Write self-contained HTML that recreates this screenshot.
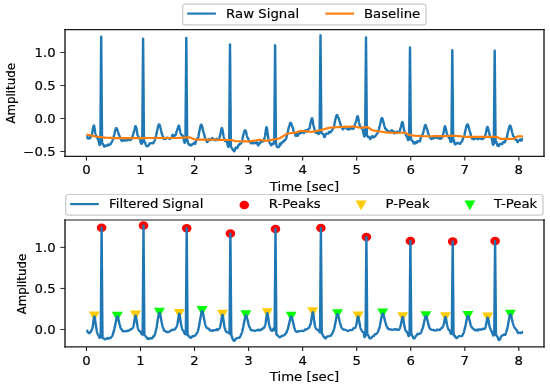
<!DOCTYPE html>
<html lang="en"><head><meta charset="utf-8"><title>ECG signal peaks</title>
<style>html,body{margin:0;padding:0;background:#fff;overflow:hidden}text{stroke:#000;stroke-width:0.16px;stroke-linejoin:round}</style></head>
<body>
<svg width="550" height="388" viewBox="0 0 488.455 388" preserveAspectRatio="none" style="display:block;font-family:'DejaVu Sans','Liberation Sans',sans-serif;font-size:11.6px;fill:#000">
<rect x="0" y="0" width="488.45" height="388" fill="#ffffff"/>
<polyline points="76.78,136.25 76.91,136.19 77.04,136.13 77.18,136.17 77.31,136.40 77.44,136.83 77.58,137.33 77.71,137.78 77.84,138.10 77.98,138.31 78.11,138.48 78.24,138.59 78.37,138.63 78.51,138.61 78.64,138.54 78.77,138.37 78.91,138.07 79.04,137.73 79.17,137.47 79.31,137.40 79.44,137.57 79.57,137.89 79.71,138.22 79.84,138.38 79.97,138.29 80.11,138.01 80.24,137.69 80.37,137.45 80.51,137.24 80.64,136.96 80.77,136.59 80.91,136.22 81.04,135.92 81.17,135.68 81.31,135.42 81.44,135.05 81.57,134.56 81.71,133.94 81.84,133.22 81.97,132.44 82.10,131.63 82.24,130.81 82.37,130.01 82.50,129.23 82.64,128.44 82.77,127.68 82.90,126.96 83.04,126.32 83.17,125.81 83.30,125.47 83.44,125.43 83.57,125.79 83.70,126.39 83.84,127.18 83.97,128.12 84.10,129.15 84.24,130.21 84.37,131.23 84.50,132.14 84.64,132.90 84.77,133.52 84.90,134.05 85.04,134.53 85.17,135.04 85.30,135.62 85.44,136.21 85.57,136.68 85.70,136.91 85.83,136.93 85.97,136.88 86.10,136.91 86.23,137.12 86.37,137.55 86.50,138.09 86.63,138.57 86.77,138.87 86.90,139.04 87.03,139.24 87.17,139.56 87.30,139.98 87.43,140.46 87.57,140.99 87.70,141.59 87.83,142.23 87.97,142.89 88.10,143.57 88.23,144.24 88.37,144.78 88.50,145.06 88.63,145.00 88.77,144.65 88.90,144.17 89.03,143.67 89.17,137.04 89.30,118.12 89.43,99.16 89.56,80.20 89.70,61.31 89.83,42.62 89.88,36.50 89.96,48.82 90.10,67.65 90.23,86.70 90.36,105.73 90.50,124.55 90.63,143.14 90.76,143.22 90.90,143.35 91.03,143.58 91.16,143.85 91.30,144.12 91.43,144.35 91.56,144.52 91.70,144.65 91.83,144.82 91.96,145.07 92.10,145.41 92.23,145.84 92.36,146.28 92.50,146.63 92.63,146.77 92.76,146.64 92.90,146.32 93.03,145.95 93.16,145.67 93.29,145.53 93.43,145.53 93.56,145.59 93.69,145.67 93.83,145.75 93.96,145.82 94.09,145.86 94.23,145.87 94.36,145.87 94.49,145.92 94.63,145.98 94.76,145.93 94.89,145.70 95.03,145.39 95.16,145.12 95.29,144.97 95.43,144.87 95.56,144.73 95.69,144.56 95.83,144.45 95.96,144.51 96.09,144.76 96.23,145.10 96.36,145.35 96.49,145.40 96.63,145.26 96.76,145.03 96.89,144.85 97.02,144.74 97.16,144.64 97.29,144.54 97.42,144.44 97.56,144.41 97.69,144.46 97.82,144.49 97.96,144.46 98.09,144.34 98.22,144.15 98.36,143.84 98.49,143.42 98.62,142.98 98.76,142.66 98.89,142.51 99.02,142.46 99.16,142.39 99.29,142.21 99.42,141.91 99.56,141.52 99.69,141.08 99.82,140.63 99.96,140.24 100.09,139.93 100.22,139.64 100.36,139.26 100.49,138.75 100.62,138.16 100.75,137.55 100.89,136.96 101.02,136.40 101.15,135.86 101.29,135.33 101.42,134.80 101.55,134.21 101.69,133.53 101.82,132.80 101.95,132.11 102.09,131.51 102.22,130.99 102.35,130.51 102.49,130.04 102.62,129.57 102.75,129.13 102.89,128.72 103.02,128.36 103.15,128.07 103.29,127.90 103.42,127.95 103.55,128.16 103.69,128.48 103.82,128.86 103.95,129.23 104.09,129.54 104.22,129.83 104.35,130.16 104.48,130.58 104.62,131.07 104.75,131.55 104.88,131.99 105.02,132.42 105.15,132.92 105.28,133.51 105.42,134.12 105.55,134.65 105.68,135.04 105.82,135.33 105.95,135.61 106.08,135.95 106.22,136.39 106.35,136.91 106.48,137.44 106.62,137.87 106.75,138.12 106.88,138.22 107.02,138.29 107.15,138.45 107.28,138.77 107.42,139.21 107.55,139.73 107.68,140.23 107.82,140.62 107.95,140.81 108.08,140.79 108.21,140.64 108.35,140.44 108.48,140.27 108.61,140.24 108.75,140.36 108.88,140.59 109.01,140.80 109.15,140.90 109.28,140.83 109.41,140.52 109.55,139.96 109.68,139.29 109.81,138.73 109.95,138.50 110.08,138.71 110.21,139.22 110.35,139.74 110.48,140.07 110.61,140.21 110.75,140.31 110.88,140.45 111.01,140.55 111.15,140.60 111.28,140.62 111.41,140.63 111.55,140.59 111.68,140.45 111.81,140.22 111.94,140.00 112.08,139.85 112.21,139.75 112.34,139.65 112.48,139.57 112.61,139.58 112.74,139.76 112.88,140.09 113.01,140.41 113.14,140.54 113.28,140.37 113.41,139.97 113.54,139.51 113.68,139.17 113.81,139.03 113.94,139.03 114.08,139.07 114.21,139.16 114.34,139.35 114.48,139.61 114.61,139.87 114.74,140.00 114.88,139.94 115.01,139.70 115.14,139.42 115.28,139.29 115.41,139.43 115.54,139.78 115.67,140.12 115.81,140.23 115.94,140.08 116.07,139.78 116.21,139.48 116.34,139.29 116.47,139.25 116.61,139.25 116.74,139.17 116.87,138.90 117.01,138.51 117.14,138.15 117.27,137.88 117.41,137.61 117.54,137.20 117.67,136.61 117.81,135.97 117.94,135.43 118.07,135.01 118.21,134.61 118.34,134.14 118.47,133.57 118.61,132.93 118.74,132.29 118.87,131.70 119.01,131.20 119.14,130.76 119.27,130.33 119.40,129.84 119.54,129.25 119.67,128.58 119.80,127.87 119.94,127.20 120.07,126.66 120.20,126.26 120.34,126.04 120.47,126.06 120.60,126.35 120.74,126.76 120.87,127.23 121.00,127.76 121.14,128.38 121.27,129.11 121.40,129.98 121.54,130.97 121.67,132.02 121.80,133.07 121.94,134.01 122.07,134.79 122.20,135.34 122.34,135.65 122.47,135.78 122.60,135.90 122.74,136.18 122.87,136.61 123.00,137.00 123.13,137.18 123.27,137.16 123.40,137.14 123.53,137.28 123.67,137.56 123.80,137.88 123.93,138.18 124.07,138.43 124.20,138.71 124.33,139.11 124.47,139.72 124.60,140.52 124.73,141.43 124.87,142.24 125.00,142.83 125.13,143.18 125.27,143.39 125.40,143.58 125.53,143.76 125.67,143.88 125.80,143.78 125.93,143.32 126.07,142.57 126.20,141.82 126.33,141.36 126.47,123.32 126.60,105.46 126.73,87.47 126.87,69.24 127.00,50.88 127.09,38.70 127.13,44.57 127.26,62.38 127.40,80.38 127.53,98.54 127.66,116.87 127.80,135.34 127.93,141.88 128.06,142.31 128.20,142.50 128.33,142.50 128.46,142.39 128.60,142.28 128.73,142.23 128.86,142.29 129.00,142.58 129.13,143.11 129.26,143.80 129.40,144.45 129.53,144.90 129.66,145.14 129.80,145.30 129.93,145.54 130.06,145.89 130.20,146.26 130.33,146.50 130.46,146.52 130.60,146.37 130.73,146.16 130.86,146.03 130.99,145.98 131.13,145.99 131.26,146.03 131.39,146.07 131.53,146.00 131.66,145.76 131.79,145.42 131.93,145.16 132.06,145.08 132.19,145.08 132.33,144.97 132.46,144.62 132.59,144.11 132.73,143.63 132.86,143.36 132.99,143.34 133.13,143.49 133.26,143.65 133.39,143.71 133.53,143.62 133.66,143.46 133.79,143.33 133.93,143.26 134.06,143.21 134.19,143.14 134.33,143.03 134.46,142.95 134.59,142.94 134.72,143.04 134.86,143.16 134.99,143.22 135.12,143.18 135.26,143.11 135.39,143.11 135.52,143.22 135.66,143.38 135.79,143.47 135.92,143.42 136.06,143.21 136.19,142.92 136.32,142.66 136.46,142.45 136.59,142.29 136.72,142.08 136.86,141.78 136.99,141.40 137.12,141.04 137.26,140.74 137.39,140.42 137.52,140.00 137.66,139.45 137.79,138.83 137.92,138.21 138.06,137.63 138.19,137.10 138.32,136.61 138.45,136.12 138.59,135.53 138.72,134.84 138.85,134.13 138.99,133.46 139.12,132.86 139.25,132.27 139.39,131.66 139.52,131.02 139.65,130.32 139.79,129.58 139.92,128.81 140.05,128.07 140.19,127.41 140.32,126.85 140.45,126.36 140.59,125.88 140.72,125.43 140.85,125.01 140.99,124.66 141.12,124.38 141.25,124.22 141.39,124.21 141.52,124.32 141.65,124.58 141.79,124.97 141.92,125.45 142.05,125.97 142.18,126.48 142.32,127.01 142.45,127.58 142.58,128.19 142.72,128.83 142.85,129.50 142.98,130.19 143.12,130.85 143.25,131.44 143.38,132.02 143.52,132.68 143.65,133.41 143.78,134.11 143.92,134.61 144.05,134.86 144.18,135.00 144.32,135.21 144.45,135.58 144.58,136.04 144.72,136.46 144.85,136.84 144.98,137.25 145.12,137.77 145.25,138.35 145.38,138.82 145.52,138.99 145.65,138.86 145.78,138.59 145.91,138.35 146.05,138.25 146.18,138.30 146.31,138.47 146.45,138.71 146.58,138.94 146.71,139.07 146.85,139.03 146.98,138.87 147.11,138.68 147.25,138.57 147.38,138.57 147.51,138.60 147.65,138.56 147.78,138.40 147.91,138.15 148.05,137.89 148.18,137.67 148.31,137.52 148.45,137.48 148.58,137.57 148.71,137.76 148.85,137.93 148.98,138.00 149.11,137.96 149.25,137.88 149.38,137.86 149.51,137.91 149.64,138.04 149.78,138.22 149.91,138.42 150.04,138.63 150.18,138.78 150.31,138.85 150.44,138.84 150.58,138.82 150.71,138.84 150.84,138.92 150.98,138.98 151.11,138.94 151.24,138.79 151.38,138.61 151.51,138.44 151.64,138.28 151.78,138.08 151.91,137.87 152.04,137.75 152.18,137.73 152.31,137.69 152.44,137.46 152.58,137.01 152.71,136.46 152.84,135.89 152.98,135.37 153.11,134.94 153.24,134.68 153.37,134.64 153.51,134.87 153.64,135.30 153.77,135.84 153.91,136.35 154.04,136.74 154.17,136.89 154.31,136.70 154.44,136.23 154.57,135.70 154.71,135.36 154.84,135.31 154.97,135.45 155.11,135.61 155.24,135.64 155.37,135.54 155.51,135.39 155.64,135.29 155.77,135.24 155.91,135.11 156.04,134.80 156.17,134.29 156.31,133.64 156.44,132.99 156.57,132.45 156.71,132.09 156.84,131.82 156.97,131.51 157.10,131.06 157.24,130.51 157.37,129.93 157.50,129.37 157.64,128.89 157.77,128.48 157.90,128.12 158.04,127.72 158.17,127.22 158.30,126.67 158.44,126.14 158.57,125.72 158.70,125.48 158.84,125.53 158.97,125.92 159.10,126.49 159.24,127.15 159.37,127.83 159.50,128.48 159.64,129.10 159.77,129.73 159.90,130.42 160.04,131.16 160.17,131.91 160.30,132.57 160.44,133.09 160.57,133.53 160.70,133.95 160.83,134.34 160.97,134.62 161.10,134.76 161.23,134.85 161.37,134.98 161.50,135.17 161.63,135.32 161.77,135.34 161.90,135.27 162.03,135.23 162.17,135.34 162.30,135.64 162.43,136.12 162.57,136.71 162.70,137.32 162.83,137.90 162.97,138.47 163.10,139.08 163.23,139.71 163.37,140.32 163.50,140.93 163.63,141.55 163.77,142.14 163.90,142.59 164.03,142.77 164.17,142.64 164.30,142.29 164.43,141.88 164.56,141.53 164.70,141.31 164.83,122.87 164.96,104.69 165.10,86.66 165.23,68.56 165.36,50.21 165.45,37.80 165.50,43.89 165.63,62.04 165.76,80.18 165.90,98.35 166.03,116.60 166.16,134.90 166.30,140.94 166.43,140.89 166.56,140.98 166.70,141.33 166.83,141.88 166.96,142.52 167.10,143.14 167.23,143.67 167.36,144.05 167.50,144.27 167.63,144.37 167.76,144.46 167.90,144.61 168.03,144.83 168.16,145.03 168.29,145.10 168.43,145.05 168.56,144.93 168.69,144.78 168.83,144.62 168.96,144.57 169.09,144.74 169.23,145.09 169.36,145.44 169.49,145.58 169.63,145.49 169.76,145.24 169.89,144.93 170.03,144.62 170.16,144.38 170.29,144.27 170.43,144.27 170.56,144.38 170.69,144.55 170.83,144.69 170.96,144.64 171.09,144.33 171.23,143.91 171.36,143.60 171.49,143.51 171.63,143.58 171.76,143.63 171.89,143.52 172.02,143.29 172.16,143.05 172.29,142.89 172.42,142.79 172.56,142.70 172.69,142.64 172.82,142.70 172.96,142.97 173.09,143.41 173.22,143.81 173.36,143.91 173.49,143.56 173.62,142.84 173.76,142.02 173.89,141.37 174.02,140.97 174.16,140.73 174.29,140.54 174.42,140.34 174.56,140.16 174.69,140.00 174.82,139.84 174.96,139.59 175.09,139.23 175.22,138.77 175.36,138.29 175.49,137.95 175.62,137.82 175.75,137.86 175.89,137.86 176.02,137.60 176.15,137.01 176.29,136.20 176.42,135.31 176.55,134.43 176.69,133.57 176.82,132.72 176.95,131.88 177.09,131.07 177.22,130.30 177.35,129.58 177.49,128.94 177.62,128.34 177.75,127.73 177.89,127.10 178.02,126.47 178.15,125.88 178.29,125.36 178.42,124.95 178.55,124.67 178.69,124.54 178.82,124.63 178.95,124.85 179.09,125.14 179.22,125.49 179.35,125.89 179.48,126.33 179.62,126.81 179.75,127.35 179.88,127.98 180.02,128.72 180.15,129.53 180.28,130.31 180.42,130.99 180.55,131.57 180.68,132.10 180.82,132.60 180.95,133.06 181.08,133.44 181.22,133.77 181.35,134.15 181.48,134.67 181.62,135.38 181.75,136.25 181.88,137.15 182.02,137.88 182.15,138.29 182.28,138.41 182.42,138.40 182.55,138.45 182.68,138.67 182.82,139.02 182.95,139.40 183.08,139.78 183.21,140.20 183.35,140.68 183.48,141.16 183.61,141.57 183.75,141.88 183.88,142.10 184.01,142.21 184.15,142.19 184.28,141.97 184.41,141.58 184.55,141.10 184.68,140.67 184.81,140.39 184.95,140.27 185.08,140.24 185.21,140.20 185.35,140.02 185.48,139.67 185.61,139.27 185.75,138.98 185.88,138.92 186.01,139.01 186.15,139.16 186.28,139.30 186.41,139.45 186.55,139.65 186.68,139.93 186.81,140.25 186.94,140.46 187.08,140.41 187.21,140.10 187.34,139.70 187.48,139.39 187.61,139.20 187.74,139.06 187.88,138.91 188.01,138.71 188.14,138.46 188.28,138.18 188.41,137.95 188.54,137.88 188.68,137.99 188.81,138.24 188.94,138.47 189.08,138.65 189.21,138.84 189.34,139.11 189.48,139.39 189.61,139.55 189.74,139.53 189.88,139.38 190.01,139.22 190.14,139.15 190.28,139.25 190.41,139.55 190.54,139.93 190.67,140.21 190.81,140.28 190.94,140.22 191.07,140.17 191.21,140.21 191.34,140.33 191.47,140.39 191.61,140.27 191.74,140.02 191.87,139.74 192.01,139.47 192.14,139.16 192.27,138.82 192.41,138.61 192.54,138.67 192.67,138.97 192.81,139.34 192.94,139.61 193.07,139.73 193.21,139.78 193.34,139.89 193.47,140.09 193.61,140.25 193.74,140.25 193.87,140.08 194.01,139.81 194.14,139.50 194.27,139.20 194.40,138.94 194.54,138.70 194.67,138.43 194.80,138.08 194.94,137.63 195.07,137.12 195.20,136.55 195.34,135.96 195.47,135.37 195.60,134.76 195.74,134.09 195.87,133.35 196.00,132.55 196.14,131.74 196.27,130.96 196.40,130.27 196.54,129.68 196.67,129.14 196.80,128.65 196.94,128.22 197.07,127.99 197.20,128.15 197.34,128.56 197.47,129.14 197.60,129.85 197.74,130.66 197.87,131.54 198.00,132.45 198.13,133.34 198.27,134.18 198.40,134.98 198.53,135.75 198.67,136.48 198.80,137.08 198.93,137.56 199.07,138.00 199.20,138.55 199.33,139.23 199.47,139.92 199.60,140.46 199.73,140.80 199.87,140.95 200.00,141.01 200.13,141.08 200.27,141.18 200.40,141.29 200.53,141.34 200.67,141.32 200.80,141.26 200.93,141.22 201.07,141.18 201.20,141.19 201.33,141.32 201.47,141.64 201.60,142.13 201.73,142.68 201.87,143.24 202.00,143.84 202.13,144.50 202.26,145.20 202.40,145.87 202.53,146.41 202.66,146.76 202.80,146.89 202.93,146.81 203.06,146.57 203.20,146.28 203.33,146.06 203.46,145.97 203.60,134.02 203.73,116.15 203.86,98.27 204.00,80.33 204.13,62.32 204.26,44.30 204.26,44.30 204.40,62.27 204.53,80.30 204.66,98.28 204.80,116.12 204.93,133.95 205.06,146.02 205.20,146.38 205.33,146.87 205.46,147.31 205.60,147.64 205.73,147.90 205.86,148.09 205.99,148.22 206.13,148.34 206.26,148.53 206.39,148.87 206.53,149.32 206.66,149.74 206.79,150.03 206.93,150.14 207.06,150.13 207.19,150.07 207.33,150.10 207.46,150.33 207.59,150.73 207.73,151.13 207.86,151.37 207.99,151.36 208.13,151.14 208.26,150.83 208.39,150.48 208.53,150.10 208.66,149.65 208.79,149.15 208.93,148.65 209.06,148.24 209.19,147.96 209.33,147.78 209.46,147.65 209.59,147.51 209.72,147.38 209.86,147.32 209.99,147.39 210.12,147.61 210.26,147.91 210.39,148.19 210.52,148.31 210.66,148.18 210.79,147.83 210.92,147.41 211.06,147.06 211.19,146.81 211.32,146.55 211.46,146.20 211.59,145.76 211.72,145.35 211.86,145.08 211.99,144.99 212.12,145.03 212.26,145.08 212.39,145.04 212.52,144.84 212.66,144.46 212.79,143.98 212.92,143.56 213.06,143.37 213.19,143.46 213.32,143.70 213.45,143.91 213.59,143.94 213.72,143.77 213.85,143.54 213.99,143.36 214.12,143.24 214.25,143.15 214.39,142.97 214.52,142.60 214.65,142.02 214.79,141.34 214.92,140.68 215.05,140.11 215.19,139.58 215.32,139.02 215.45,138.35 215.59,137.60 215.72,136.83 215.85,136.10 215.99,135.41 216.12,134.74 216.25,134.10 216.39,133.56 216.52,133.11 216.65,132.71 216.79,132.26 216.92,131.76 217.05,131.25 217.18,130.81 217.32,130.48 217.45,130.26 217.58,130.16 217.72,130.24 217.85,130.42 217.98,130.63 218.12,130.85 218.25,131.09 218.38,131.40 218.52,131.82 218.65,132.40 218.78,133.11 218.92,133.92 219.05,134.73 219.18,135.47 219.32,136.07 219.45,136.56 219.58,136.96 219.72,137.28 219.85,137.54 219.98,137.78 220.12,138.04 220.25,138.33 220.38,138.63 220.52,138.94 220.65,139.33 220.78,139.85 220.91,140.42 221.05,140.93 221.18,141.28 221.31,141.43 221.45,141.42 221.58,141.36 221.71,141.38 221.85,141.49 221.98,141.63 222.11,141.77 222.25,141.91 222.38,142.12 222.51,142.43 222.65,142.81 222.78,143.17 222.91,143.42 223.05,143.51 223.18,143.51 223.31,143.50 223.45,143.44 223.58,143.23 223.71,142.84 223.85,142.41 223.98,142.11 224.11,141.99 224.25,141.99 224.38,141.99 224.51,141.92 224.64,141.83 224.78,141.83 224.91,141.99 225.04,142.33 225.18,142.78 225.31,143.20 225.44,143.47 225.58,143.54 225.71,143.47 225.84,143.34 225.98,143.23 226.11,143.20 226.24,143.22 226.38,143.24 226.51,143.19 226.64,143.04 226.78,142.84 226.91,142.71 227.04,142.70 227.18,142.76 227.31,142.74 227.44,142.54 227.58,142.19 227.71,141.91 227.84,141.90 227.98,142.24 228.11,142.76 228.24,143.23 228.37,143.51 228.51,143.70 228.64,143.95 228.77,144.30 228.91,144.72 229.04,145.12 229.17,145.44 229.31,145.55 229.44,145.37 229.57,144.94 229.71,144.37 229.84,143.80 229.97,143.30 230.11,142.98 230.24,142.87 230.37,142.99 230.51,143.24 230.64,143.46 230.77,143.50 230.91,143.36 231.04,143.14 231.17,142.94 231.31,142.73 231.44,142.38 231.57,141.91 231.71,141.44 231.84,141.18 231.97,141.18 232.10,141.33 232.24,141.48 232.37,141.59 232.50,141.69 232.64,141.75 232.77,141.71 232.90,141.55 233.04,141.34 233.17,141.22 233.30,141.23 233.44,141.29 233.57,141.32 233.70,141.31 233.84,141.24 233.97,141.09 234.10,140.85 234.24,140.49 234.37,140.01 234.50,139.43 234.64,138.82 234.77,138.26 234.90,137.79 235.04,137.34 235.17,136.83 235.30,136.19 235.44,135.39 235.57,134.48 235.70,133.50 235.83,132.44 235.97,131.31 236.10,130.17 236.23,129.08 236.37,128.16 236.50,127.46 236.63,127.06 236.77,127.12 236.90,127.55 237.03,128.20 237.17,129.07 237.30,130.13 237.43,131.37 237.57,132.67 237.70,133.90 237.83,134.99 237.97,136.00 238.10,137.00 238.23,138.06 238.37,139.12 238.50,140.03 238.63,140.63 238.77,140.89 238.90,140.96 239.03,141.09 239.17,141.44 239.30,142.00 239.43,142.60 239.56,143.08 239.70,143.43 239.83,143.66 239.96,143.76 240.10,143.76 240.23,143.78 240.36,143.96 240.50,144.34 240.63,144.81 240.76,145.22 240.90,145.43 241.03,145.33 241.16,144.96 241.30,144.42 241.43,143.93 241.56,143.65 241.70,143.58 241.83,143.61 241.96,143.65 242.10,143.71 242.23,143.83 242.36,144.02 242.50,144.17 242.63,144.18 242.76,143.96 242.90,143.50 243.03,142.88 243.16,142.35 243.29,142.12 243.43,142.25 243.56,142.62 243.69,125.64 243.83,108.57 243.96,91.39 244.09,74.12 244.23,56.78 244.32,45.20 244.36,51.02 244.49,68.48 244.63,86.02 244.76,103.60 244.89,121.17 245.03,138.69 245.16,144.60 245.29,144.76 245.43,145.02 245.56,145.36 245.69,145.75 245.83,146.19 245.96,146.63 246.09,146.97 246.23,147.12 246.36,147.14 246.49,147.15 246.63,147.23 246.76,147.36 246.89,147.42 247.02,147.27 247.16,146.96 247.29,146.63 247.42,146.49 247.56,146.55 247.69,146.71 247.82,146.80 247.96,146.69 248.09,146.32 248.22,145.65 248.36,144.79 248.49,144.01 248.62,143.55 248.76,143.52 248.89,143.79 249.02,144.16 249.16,144.48 249.29,144.62 249.42,144.51 249.56,144.16 249.69,143.68 249.82,143.22 249.96,142.89 250.09,142.71 250.22,142.63 250.36,142.55 250.49,142.43 250.62,142.27 250.75,142.18 250.89,142.22 251.02,142.35 251.15,142.43 251.29,142.38 251.42,142.21 251.55,142.00 251.69,141.78 251.82,141.50 251.95,141.10 252.09,140.67 252.22,140.39 252.35,140.39 252.49,140.58 252.62,140.73 252.75,140.69 252.89,140.52 253.02,140.34 253.15,140.17 253.29,139.90 253.42,139.49 253.55,139.11 253.69,138.95 253.82,138.99 253.95,139.01 254.09,138.75 254.22,138.18 254.35,137.43 254.48,136.66 254.62,135.98 254.75,135.44 254.88,135.04 255.02,134.67 255.15,134.24 255.28,133.65 255.42,132.91 255.55,132.11 255.68,131.34 255.82,130.62 255.95,129.92 256.08,129.22 256.22,128.55 256.35,127.90 256.48,127.32 256.62,126.82 256.75,126.41 256.88,126.02 257.02,125.58 257.15,125.06 257.28,124.50 257.42,123.99 257.55,123.56 257.68,123.20 257.82,122.92 257.95,122.75 258.08,122.72 258.21,122.78 258.35,122.95 258.48,123.20 258.61,123.52 258.75,123.90 258.88,124.34 259.01,124.83 259.15,125.35 259.28,125.83 259.41,126.25 259.55,126.60 259.68,126.94 259.81,127.27 259.95,127.63 260.08,128.04 260.21,128.54 260.35,129.18 260.48,129.88 260.61,130.54 260.75,131.12 260.88,131.65 261.01,132.18 261.15,132.66 261.28,133.02 261.41,133.17 261.55,133.15 261.68,133.07 261.81,133.11 261.94,133.39 262.08,133.93 262.21,134.61 262.34,135.21 262.48,135.61 262.61,135.83 262.74,135.94 262.88,135.87 263.01,135.50 263.14,134.85 263.28,134.09 263.41,133.46 263.54,133.12 263.68,133.15 263.81,133.49 263.94,134.04 264.08,134.68 264.21,135.31 264.34,135.75 264.48,135.88 264.61,135.69 264.74,135.29 264.88,134.84 265.01,134.41 265.14,134.03 265.28,133.72 265.41,133.53 265.54,133.52 265.67,133.58 265.81,133.53 265.94,133.27 266.07,132.86 266.21,132.54 266.34,132.52 266.47,132.83 266.61,133.25 266.74,133.49 266.87,133.40 267.01,133.12 267.14,132.88 267.27,132.76 267.41,132.74 267.54,132.70 267.67,132.55 267.81,132.25 267.94,131.85 268.07,131.45 268.21,131.19 268.34,131.13 268.47,131.26 268.61,131.50 268.74,131.75 268.87,131.89 269.01,131.91 269.14,131.90 269.27,132.05 269.40,132.41 269.54,132.86 269.67,133.16 269.80,133.16 269.94,132.87 270.07,132.42 270.20,131.95 270.34,131.55 270.47,131.33 270.60,131.33 270.74,131.43 270.87,131.41 271.00,131.17 271.14,130.78 271.27,130.40 271.40,130.15 271.54,130.12 271.67,130.36 271.80,130.81 271.94,131.32 272.07,131.71 272.20,131.83 272.34,131.63 272.47,131.15 272.60,130.61 272.74,130.24 272.87,130.14 273.00,130.21 273.13,130.26 273.27,130.15 273.40,129.89 273.53,129.60 273.67,129.38 273.80,129.29 273.93,129.25 274.07,129.16 274.20,128.92 274.33,128.60 274.47,128.37 274.60,128.33 274.73,128.41 274.87,128.42 275.00,128.12 275.13,127.42 275.27,126.45 275.40,125.39 275.53,124.44 275.67,123.66 275.80,123.02 275.93,122.46 276.07,121.88 276.20,121.24 276.33,120.56 276.47,119.91 276.60,119.33 276.73,118.85 276.87,118.46 277.00,118.18 277.13,118.17 277.26,118.49 277.40,119.02 277.53,119.71 277.66,120.52 277.80,121.42 277.93,122.38 278.06,123.35 278.20,124.29 278.33,125.12 278.46,125.80 278.60,126.35 278.73,126.82 278.86,127.28 279.00,127.82 279.13,128.46 279.26,129.17 279.40,129.90 279.53,130.63 279.66,131.34 279.80,131.95 279.93,132.35 280.06,132.47 280.20,132.43 280.33,132.34 280.46,132.32 280.60,132.39 280.73,132.58 280.86,132.80 280.99,132.95 281.13,132.94 281.26,132.84 281.39,132.72 281.53,132.60 281.66,132.49 281.79,132.43 281.93,132.44 282.06,132.49 282.19,132.59 282.33,132.77 282.46,133.09 282.59,133.52 282.73,133.93 282.86,134.19 282.99,134.23 283.13,134.04 283.26,133.63 283.39,133.08 283.53,132.55 283.66,132.20 283.79,132.07 283.93,126.34 284.06,109.15 284.19,91.99 284.33,74.92 284.46,57.94 284.59,40.92 284.64,35.20 284.72,46.71 284.86,63.84 284.99,80.99 285.12,98.28 285.26,115.65 285.39,132.96 285.52,132.95 285.66,132.94 285.79,133.01 285.92,133.17 286.06,133.32 286.19,133.41 286.32,133.52 286.46,133.75 286.59,134.05 286.72,134.27 286.86,134.32 286.99,134.25 287.12,134.19 287.26,134.31 287.39,134.67 287.52,135.23 287.66,135.85 287.79,136.42 287.92,136.86 288.06,137.14 288.19,137.26 288.32,137.18 288.45,136.91 288.59,136.51 288.72,136.03 288.85,135.53 288.99,135.03 289.12,134.54 289.25,134.13 289.39,133.83 289.52,133.65 289.65,133.54 289.79,133.47 289.92,133.46 290.05,133.52 290.19,133.62 290.32,133.68 290.45,133.69 290.59,133.69 290.72,133.73 290.85,133.82 290.99,133.88 291.12,133.90 291.25,133.86 291.39,133.81 291.52,133.71 291.65,133.54 291.79,133.25 291.92,132.81 292.05,132.31 292.18,131.89 292.32,131.66 292.45,131.62 292.58,131.72 292.72,131.90 292.85,132.07 292.98,132.21 293.12,132.30 293.25,132.37 293.38,132.44 293.52,132.46 293.65,132.35 293.78,132.07 293.92,131.68 294.05,131.33 294.18,131.14 294.32,131.05 294.45,130.97 294.58,130.86 294.72,130.69 294.85,130.43 294.98,130.07 295.12,129.66 295.25,129.32 295.38,129.13 295.52,129.01 295.65,128.83 295.78,128.48 295.91,128.05 296.05,127.68 296.18,127.44 296.31,127.28 296.45,127.07 296.58,126.72 296.71,126.17 296.85,125.43 296.98,124.54 297.11,123.61 297.25,122.71 297.38,121.89 297.51,121.13 297.65,120.43 297.78,119.79 297.91,119.18 298.05,118.59 298.18,118.01 298.31,117.43 298.45,116.88 298.58,116.35 298.71,115.89 298.85,115.52 298.98,115.22 299.11,115.00 299.25,114.90 299.38,114.97 299.51,115.17 299.64,115.47 299.78,115.86 299.91,116.29 300.04,116.73 300.18,117.12 300.31,117.44 300.44,117.67 300.58,117.90 300.71,118.19 300.84,118.61 300.98,119.15 301.11,119.73 301.24,120.26 301.38,120.73 301.51,121.16 301.64,121.59 301.78,122.03 301.91,122.45 302.04,122.86 302.18,123.30 302.31,123.84 302.44,124.50 302.58,125.19 302.71,125.75 302.84,126.07 302.98,126.20 303.11,126.27 303.24,126.42 303.37,126.66 303.51,126.97 303.64,127.30 303.77,127.63 303.91,128.00 304.04,128.40 304.17,128.78 304.31,129.08 304.44,129.27 304.57,129.37 304.71,129.39 304.84,129.30 304.97,129.09 305.11,128.74 305.24,128.30 305.37,127.86 305.51,127.52 305.64,127.34 305.77,127.29 305.91,127.30 306.04,127.28 306.17,127.18 306.31,127.01 306.44,126.90 306.57,126.89 306.71,126.95 306.84,126.97 306.97,126.99 307.10,127.09 307.24,127.31 307.37,127.60 307.50,127.86 307.64,128.11 307.77,128.36 307.90,128.59 308.04,128.80 308.17,128.97 308.30,129.10 308.44,129.15 308.57,129.08 308.70,129.01 308.84,129.08 308.97,129.29 309.10,129.50 309.24,129.55 309.37,129.48 309.50,129.47 309.64,129.59 309.77,129.69 309.90,129.56 310.04,129.11 310.17,128.47 310.30,127.89 310.44,127.59 310.57,127.67 310.70,128.01 310.83,128.43 310.97,128.72 311.10,128.86 311.23,128.93 311.37,128.97 311.50,128.95 311.63,128.83 311.77,128.70 311.90,128.62 312.03,128.59 312.17,128.55 312.30,128.50 312.43,128.40 312.57,128.27 312.70,128.15 312.83,128.15 312.97,128.34 313.10,128.63 313.23,128.90 313.37,128.99 313.50,128.94 313.63,128.84 313.77,128.82 313.90,128.80 314.03,128.66 314.17,128.30 314.30,127.77 314.43,127.18 314.56,126.60 314.70,126.09 314.83,125.67 314.96,125.29 315.10,124.85 315.23,124.32 315.36,123.77 315.50,123.31 315.63,122.96 315.76,122.65 315.90,122.28 316.03,121.83 316.16,121.33 316.30,120.82 316.43,120.30 316.56,119.75 316.70,119.17 316.83,118.56 316.96,117.94 317.10,117.36 317.23,116.83 317.36,116.41 317.50,116.12 317.63,116.08 317.76,116.35 317.90,116.80 318.03,117.38 318.16,118.10 318.29,118.93 318.43,119.84 318.56,120.77 318.69,121.64 318.83,122.38 318.96,122.98 319.09,123.49 319.23,124.03 319.36,124.63 319.49,125.24 319.63,125.73 319.76,126.08 319.89,126.34 320.03,126.56 320.16,126.76 320.29,126.91 320.43,127.03 320.56,127.20 320.69,127.46 320.83,127.81 320.96,128.17 321.09,128.45 321.23,128.63 321.36,128.69 321.49,128.64 321.63,128.55 321.76,128.56 321.89,128.78 322.02,129.25 322.16,129.92 322.29,130.72 322.42,131.51 322.56,132.17 322.69,132.67 322.82,133.13 322.96,133.73 323.09,134.52 323.22,135.35 323.36,136.05 323.49,136.47 323.62,136.58 323.76,136.38 323.89,135.93 324.02,135.36 324.16,134.79 324.29,134.35 324.42,116.99 324.56,99.80 324.69,82.74 324.82,65.73 324.96,48.73 325.04,37.40 325.09,43.13 325.22,60.31 325.36,77.48 325.49,94.56 325.62,111.59 325.75,128.72 325.89,134.72 326.02,135.25 326.15,135.80 326.29,136.16 326.42,136.33 326.55,136.48 326.69,136.72 326.82,137.00 326.95,137.20 327.09,137.23 327.22,137.12 327.35,136.95 327.49,136.79 327.62,136.70 327.75,136.73 327.89,136.93 328.02,137.25 328.15,137.60 328.29,137.94 328.42,138.31 328.55,138.71 328.69,139.03 328.82,139.15 328.95,139.01 329.09,138.68 329.22,138.29 329.35,137.93 329.48,137.69 329.62,137.56 329.75,137.50 329.88,137.39 330.02,137.18 330.15,136.88 330.28,136.55 330.42,136.25 330.55,136.02 330.68,135.88 330.82,135.88 330.95,136.04 331.08,136.38 331.22,136.82 331.35,137.24 331.48,137.50 331.62,137.57 331.75,137.50 331.88,137.34 332.02,137.14 332.15,136.95 332.28,136.87 332.42,136.89 332.55,136.92 332.68,136.86 332.82,136.64 332.95,136.36 333.08,136.11 333.21,135.97 333.35,135.93 333.48,135.91 333.61,135.85 333.75,135.68 333.88,135.35 334.01,134.92 334.15,134.54 334.28,134.30 334.41,134.20 334.55,134.13 334.68,134.01 334.81,133.87 334.95,133.76 335.08,133.65 335.21,133.46 335.35,133.10 335.48,132.61 335.61,132.10 335.75,131.62 335.88,131.15 336.01,130.68 336.15,130.24 336.28,129.84 336.41,129.44 336.55,128.98 336.68,128.42 336.81,127.79 336.94,127.14 337.08,126.55 337.21,126.03 337.34,125.52 337.48,124.96 337.61,124.31 337.74,123.60 337.88,122.89 338.01,122.22 338.14,121.55 338.28,120.87 338.41,120.17 338.54,119.51 338.68,118.96 338.81,118.51 338.94,118.18 339.08,117.96 339.21,117.91 339.34,118.05 339.48,118.33 339.61,118.69 339.74,119.13 339.88,119.60 340.01,120.09 340.14,120.60 340.28,121.13 340.41,121.70 340.54,122.28 340.67,122.84 340.81,123.41 340.94,124.05 341.07,124.76 341.21,125.49 341.34,126.08 341.47,126.48 341.61,126.71 341.74,126.96 341.87,127.38 342.01,127.97 342.14,128.57 342.27,128.95 342.41,129.02 342.54,128.93 342.67,128.89 342.81,128.99 342.94,129.23 343.07,129.57 343.21,129.93 343.34,130.27 343.47,130.52 343.61,130.66 343.74,130.67 343.87,130.59 344.01,130.48 344.14,130.43 344.27,130.50 344.40,130.67 344.54,130.90 344.67,131.14 344.80,131.34 344.94,131.50 345.07,131.65 345.20,131.80 345.34,131.88 345.47,131.79 345.60,131.58 345.74,131.45 345.87,131.60 346.00,131.97 346.14,132.31 346.27,132.38 346.40,132.17 346.54,131.82 346.67,131.50 346.80,131.30 346.94,131.22 347.07,131.22 347.20,131.19 347.34,131.02 347.47,130.72 347.60,130.40 347.74,130.19 347.87,130.16 348.00,130.35 348.13,130.75 348.27,131.22 348.40,131.59 348.53,131.72 348.67,131.57 348.80,131.27 348.93,130.98 349.07,130.84 349.20,130.92 349.33,131.20 349.47,131.64 349.60,132.16 349.73,132.67 349.87,133.06 350.00,133.28 350.13,133.39 350.27,133.45 350.40,133.44 350.53,133.29 350.67,132.96 350.80,132.56 350.93,132.26 351.07,132.22 351.20,132.44 351.33,132.74 351.47,132.88 351.60,132.78 351.73,132.49 351.87,132.14 352.00,131.84 352.13,131.65 352.26,131.58 352.40,131.60 352.53,131.63 352.66,131.63 352.80,131.60 352.93,131.66 353.06,131.86 353.20,132.15 353.33,132.42 353.46,132.52 353.60,132.47 353.73,132.38 353.86,132.35 354.00,132.38 354.13,132.39 354.26,132.35 354.40,132.32 354.53,132.32 354.66,132.24 354.80,131.98 354.93,131.53 355.06,130.98 355.20,130.37 355.33,129.72 355.46,129.05 355.60,128.48 355.73,128.07 355.86,127.72 355.99,127.30 356.13,126.75 356.26,126.11 356.39,125.43 356.53,124.73 356.66,124.02 356.79,123.33 356.93,122.72 357.06,122.24 357.19,121.93 357.33,121.90 357.46,122.17 357.59,122.64 357.73,123.25 357.86,123.97 357.99,124.71 358.13,125.47 358.26,126.25 358.39,127.11 358.53,128.05 358.66,128.97 358.79,129.77 358.93,130.40 359.06,130.88 359.19,131.33 359.33,131.84 359.46,132.43 359.59,133.00 359.72,133.44 359.86,133.65 359.99,133.68 360.12,133.72 360.26,134.01 360.39,134.59 360.52,135.25 360.66,135.69 360.79,135.84 360.92,135.83 361.06,135.87 361.19,136.04 361.32,136.30 361.46,136.56 361.59,136.85 361.72,137.27 361.86,137.85 361.99,138.57 362.12,139.25 362.26,139.74 362.39,140.03 362.52,140.17 362.66,140.22 362.79,140.14 362.92,139.90 363.06,139.55 363.19,139.21 363.32,139.00 363.45,128.13 363.59,111.96 363.72,95.85 363.85,79.74 363.99,63.60 364.12,47.40 364.12,47.40 364.25,63.49 364.39,79.55 364.52,95.60 364.65,111.63 364.79,127.64 364.92,138.34 365.05,138.44 365.19,138.79 365.32,139.30 365.45,139.86 365.59,140.38 365.72,140.74 365.85,140.88 365.99,140.83 366.12,140.71 366.25,140.67 366.39,140.80 366.52,141.04 366.65,141.31 366.79,141.55 366.92,141.80 367.05,142.19 367.18,142.73 367.32,143.28 367.45,143.58 367.58,143.47 367.72,143.03 367.85,142.55 367.98,142.31 368.12,142.40 368.25,142.69 368.38,143.01 368.52,143.28 368.65,143.48 368.78,143.59 368.92,143.55 369.05,143.36 369.18,143.08 369.32,142.76 369.45,142.39 369.58,142.00 369.72,141.72 369.85,141.70 369.98,142.00 370.12,142.43 370.25,142.71 370.38,142.66 370.52,142.31 370.65,141.83 370.78,141.41 370.91,141.15 371.05,141.06 371.18,141.05 371.31,141.04 371.45,141.00 371.58,140.97 371.71,141.01 371.85,141.12 371.98,141.25 372.11,141.34 372.25,141.34 372.38,141.25 372.51,141.20 372.65,141.27 372.78,141.42 372.91,141.39 373.05,141.01 373.18,140.27 373.31,139.43 373.45,138.71 373.58,138.22 373.71,137.87 373.85,137.52 373.98,137.10 374.11,136.66 374.25,136.30 374.38,136.07 374.51,135.93 374.64,135.79 374.78,135.59 374.91,135.30 375.04,134.95 375.18,134.67 375.31,134.48 375.44,134.28 375.58,133.91 375.71,133.32 375.84,132.62 375.98,131.96 376.11,131.38 376.24,130.85 376.38,130.31 376.51,129.72 376.64,129.08 376.78,128.44 376.91,127.80 377.04,127.18 377.18,126.59 377.31,126.07 377.44,125.61 377.58,125.25 377.71,124.99 377.84,124.88 377.98,124.97 378.11,125.24 378.24,125.66 378.37,126.21 378.51,126.78 378.64,127.30 378.77,127.73 378.91,128.10 379.04,128.46 379.17,128.83 379.31,129.24 379.44,129.71 379.57,130.23 379.71,130.81 379.84,131.43 379.97,132.08 380.11,132.71 380.24,133.27 380.37,133.71 380.51,134.06 380.64,134.37 380.77,134.71 380.91,135.13 381.04,135.64 381.17,136.14 381.31,136.49 381.44,136.62 381.57,136.63 381.71,136.68 381.84,136.85 381.97,137.12 382.10,137.43 382.24,137.75 382.37,138.06 382.50,138.35 382.64,138.64 382.77,138.90 382.90,139.07 383.04,139.13 383.17,139.12 383.30,139.06 383.44,138.94 383.57,138.78 383.70,138.64 383.84,138.58 383.97,138.62 384.10,138.64 384.24,138.49 384.37,138.10 384.50,137.62 384.64,137.30 384.77,137.33 384.90,137.69 385.04,138.15 385.17,138.46 385.30,138.47 385.44,138.22 385.57,137.87 385.70,137.53 385.83,137.31 385.97,137.27 386.10,137.39 386.23,137.59 386.37,137.73 386.50,137.73 386.63,137.65 386.77,137.58 386.90,137.57 387.03,137.57 387.17,137.52 387.30,137.41 387.43,137.33 387.57,137.36 387.70,137.50 387.83,137.71 387.97,137.93 388.10,138.12 388.23,138.24 388.37,138.27 388.50,138.24 388.63,138.09 388.77,137.76 388.90,137.23 389.03,136.68 389.17,136.30 389.30,136.19 389.43,136.27 389.56,136.32 389.70,136.24 389.83,136.11 389.96,136.16 390.10,136.54 390.23,137.26 390.36,138.12 390.50,138.79 390.63,138.92 390.76,138.43 390.90,137.56 391.03,136.77 391.16,136.45 391.30,136.72 391.43,137.36 391.56,138.03 391.70,138.49 391.83,138.67 391.96,138.61 392.10,138.36 392.23,137.96 392.36,137.52 392.50,137.23 392.63,137.15 392.76,137.13 392.90,136.94 393.03,136.47 393.16,135.84 393.29,135.21 393.43,134.64 393.56,134.12 393.69,133.58 393.83,132.98 393.96,132.30 394.09,131.53 394.23,130.69 394.36,129.84 394.49,129.03 394.63,128.27 394.76,127.58 394.89,126.98 395.03,126.50 395.16,126.22 395.29,126.29 395.43,126.64 395.56,127.16 395.69,127.75 395.83,128.35 395.96,128.94 396.09,129.54 396.23,130.19 396.36,130.92 396.49,131.70 396.63,132.48 396.76,133.18 396.89,133.75 397.02,134.20 397.16,134.57 397.29,134.92 397.42,135.26 397.56,135.53 397.69,135.70 397.82,135.83 397.96,135.99 398.09,136.24 398.22,136.55 398.36,136.93 398.49,137.37 398.62,137.80 398.76,138.08 398.89,138.10 399.02,137.94 399.16,137.82 399.29,138.00 399.42,138.57 399.56,139.42 399.69,140.29 399.82,140.99 399.96,141.48 400.09,141.77 400.22,141.87 400.36,141.79 400.49,141.66 400.62,141.62 400.75,141.76 400.89,142.02 401.02,131.39 401.15,115.21 401.29,98.96 401.42,82.73 401.55,66.47 401.69,50.10 401.69,50.10 401.82,66.19 401.95,82.19 402.09,98.19 402.22,114.22 402.35,130.19 402.49,140.63 402.62,140.17 402.75,139.85 402.89,139.81 403.02,140.06 403.15,140.52 403.29,141.09 403.42,141.75 403.55,142.49 403.69,143.22 403.82,143.85 403.95,144.27 404.09,144.45 404.22,144.50 404.35,144.53 404.48,144.54 404.62,144.48 404.75,144.27 404.88,143.95 405.02,143.63 405.15,143.39 405.28,143.25 405.42,143.20 405.55,143.24 405.68,143.34 405.82,143.41 405.95,143.33 406.08,143.07 406.22,142.77 406.35,142.61 406.48,142.66 406.62,142.85 406.75,143.08 406.88,143.24 407.02,143.32 407.15,143.35 407.28,143.39 407.42,143.46 407.55,143.54 407.68,143.61 407.82,143.64 407.95,143.66 408.08,143.73 408.21,143.86 408.35,143.98 408.48,144.03 408.61,143.96 408.75,143.78 408.88,143.50 409.01,143.12 409.15,142.71 409.28,142.37 409.41,142.11 409.55,141.92 409.68,141.79 409.81,141.77 409.95,141.81 410.08,141.78 410.21,141.60 410.35,141.30 410.48,140.98 410.61,140.61 410.75,140.11 410.88,139.50 411.01,138.89 411.15,138.41 411.28,138.03 411.41,137.74 411.55,137.52 411.68,137.33 411.81,137.11 411.94,136.83 412.08,136.52 412.21,136.17 412.34,135.74 412.48,135.17 412.61,134.48 412.74,133.73 412.88,132.95 413.01,132.16 413.14,131.40 413.28,130.70 413.41,130.07 413.54,129.46 413.68,128.81 413.81,128.11 413.94,127.41 414.08,126.77 414.21,126.23 414.34,125.80 414.48,125.45 414.61,125.13 414.74,124.83 414.88,124.55 415.01,124.32 415.14,124.21 415.28,124.27 415.41,124.47 415.54,124.76 415.67,125.13 415.81,125.52 415.94,125.92 416.07,126.35 416.21,126.84 416.34,127.40 416.47,128.01 416.61,128.63 416.74,129.28 416.87,129.92 417.01,130.52 417.14,131.07 417.27,131.54 417.41,131.94 417.54,132.32 417.67,132.73 417.81,133.25 417.94,133.93 418.07,134.74 418.21,135.55 418.34,136.23 418.47,136.72 418.61,137.09 418.74,137.42 418.87,137.78 419.01,138.16 419.14,138.45 419.27,138.56 419.40,138.46 419.54,138.21 419.67,137.89 419.80,137.60 419.94,137.46 420.07,137.61 420.20,138.08 420.34,138.68 420.47,139.19 420.60,139.45 420.74,139.41 420.87,139.17 421.00,138.87 421.14,138.63 421.27,138.51 421.40,138.44 421.54,138.36 421.67,138.25 421.80,138.16 421.94,138.09 422.07,138.02 422.20,137.92 422.34,137.83 422.47,137.84 422.60,137.98 422.74,138.22 422.87,138.46 423.00,138.62 423.13,138.66 423.27,138.60 423.40,138.50 423.53,138.46 423.67,138.48 423.80,138.54 423.93,138.64 424.07,138.82 424.20,139.06 424.33,139.24 424.47,139.28 424.60,139.22 424.73,139.14 424.87,139.03 425.00,138.88 425.13,138.69 425.27,138.52 425.40,138.42 425.53,138.41 425.67,138.43 425.80,138.44 425.93,138.39 426.07,138.33 426.20,138.33 426.33,138.42 426.47,138.52 426.60,138.50 426.73,138.32 426.87,138.12 427.00,138.14 427.13,138.43 427.26,138.80 427.40,138.99 427.53,138.86 427.66,138.53 427.80,138.23 427.93,138.15 428.06,138.35 428.20,138.70 428.33,139.01 428.46,139.19 428.60,139.21 428.73,139.06 428.86,138.72 429.00,138.31 429.13,138.02 429.26,138.00 429.40,138.17 429.53,138.31 429.66,138.26 429.80,138.05 429.93,137.83 430.06,137.70 430.20,137.63 430.33,137.51 430.46,137.27 430.60,136.91 430.73,136.44 430.86,135.88 430.99,135.28 431.13,134.72 431.26,134.19 431.39,133.62 431.53,132.98 431.66,132.28 431.79,131.52 431.93,130.70 432.06,129.84 432.19,129.01 432.33,128.28 432.46,127.70 432.59,127.27 432.73,126.99 432.86,126.86 432.99,126.96 433.13,127.34 433.26,127.80 433.39,128.28 433.53,128.75 433.66,129.25 433.79,129.81 433.93,130.44 434.06,131.10 434.19,131.73 434.33,132.31 434.46,132.84 434.59,133.41 434.72,134.11 434.86,134.92 434.99,135.71 435.12,136.33 435.26,136.71 435.39,136.93 435.52,137.13 435.66,137.38 435.79,137.59 435.92,137.60 436.06,137.38 436.19,137.09 436.32,136.95 436.46,137.12 436.59,137.60 436.72,138.29 436.86,139.06 436.99,139.83 437.12,140.58 437.26,141.34 437.39,142.10 437.52,142.87 437.66,143.60 437.79,144.25 437.92,144.73 438.06,144.93 438.19,144.78 438.32,144.29 438.45,143.58 438.59,142.85 438.72,126.09 438.85,109.62 438.99,93.42 439.12,77.34 439.25,61.25 439.34,50.50 439.39,55.94 439.52,72.24 439.65,88.51 439.79,104.76 439.92,121.01 440.05,137.25 440.19,142.61 440.32,142.42 440.45,142.08 440.59,141.76 440.72,141.68 440.85,141.91 440.99,142.36 441.12,142.89 441.25,143.47 441.39,144.07 441.52,144.66 441.65,145.18 441.79,145.58 441.92,145.81 442.05,145.81 442.18,145.56 442.32,145.20 442.45,144.97 442.58,145.02 442.72,145.33 442.85,145.76 442.98,146.08 443.12,146.14 443.25,145.87 443.38,145.33 443.52,144.71 443.65,144.23 443.78,143.97 443.92,143.88 444.05,143.84 444.18,143.79 444.32,143.76 444.45,143.79 444.58,143.88 444.72,143.96 444.85,143.97 444.98,143.91 445.12,143.85 445.25,143.87 445.38,144.00 445.52,144.18 445.65,144.33 445.78,144.39 445.91,144.31 446.05,144.08 446.18,143.72 446.31,143.30 446.45,142.86 446.58,142.48 446.71,142.22 446.85,142.08 446.98,142.01 447.11,141.93 447.25,141.83 447.38,141.78 447.51,141.85 447.65,142.04 447.78,142.25 447.91,142.37 448.05,142.43 448.18,142.42 448.31,142.29 448.45,141.97 448.58,141.48 448.71,140.91 448.85,140.40 448.98,140.05 449.11,139.84 449.25,139.70 449.38,139.54 449.51,139.36 449.64,139.10 449.78,138.72 449.91,138.18 450.04,137.54 450.18,136.89 450.31,136.27 450.44,135.69 450.58,135.10 450.71,134.43 450.84,133.62 450.98,132.72 451.11,131.89 451.24,131.24 451.38,130.76 451.51,130.32 451.64,129.81 451.78,129.22 451.91,128.59 452.04,127.97 452.18,127.44 452.31,126.98 452.44,126.58 452.58,126.20 452.71,125.83 452.84,125.54 452.98,125.45 453.11,125.51 453.24,125.71 453.37,126.05 453.51,126.49 453.64,126.95 453.77,127.41 453.91,127.87 454.04,128.37 454.17,128.99 454.31,129.73 454.44,130.53 454.57,131.32 454.71,132.00 454.84,132.54 454.97,132.92 455.11,133.22 455.24,133.59 455.37,134.15 455.51,134.83 455.64,135.47 455.77,135.88 455.91,136.06 456.04,136.11 456.17,136.18 456.31,136.35 456.44,136.58 456.57,136.79 456.71,136.96 456.84,137.13 456.97,137.37 457.10,137.69 457.24,138.09 457.37,138.54 457.50,139.00 457.64,139.43 457.77,139.75 457.90,139.90 458.04,139.84 458.17,139.64 458.30,139.45 458.44,139.39 458.57,139.54 458.70,139.83 458.84,140.15 458.97,140.42 459.10,140.65 459.24,140.94 459.37,141.33 459.50,141.78 459.64,142.14 459.77,142.27 459.90,142.12 460.04,141.79 460.17,141.41 460.30,141.06 460.44,140.79 460.57,140.60 460.70,140.50 460.83,140.46 460.97,140.42 461.10,140.31 461.23,140.15 461.37,139.96 461.50,139.78 461.63,139.65 461.77,139.52 461.90,139.41 462.03,139.35 462.17,139.40 462.30,139.60 462.43,139.86 462.57,140.15 462.70,140.43 462.83,140.67 462.97,140.77 463.10,140.62 463.23,140.26 463.37,139.84 463.50,139.47 463.63,139.20 463.77,139.04 463.90,138.94 464.03,138.86 464.17,138.79 464.30,138.75 464.43,138.74" fill="none" stroke="#1f77b4" stroke-width="2.15" stroke-linejoin="round" stroke-linecap="butt"/>
<polyline points="76.78,134.52 76.91,134.53 77.04,134.55 77.18,134.57 77.31,134.60 77.44,134.63 77.58,134.66 77.71,134.69 77.84,134.72 77.98,134.76 78.11,134.79 78.24,134.82 78.37,134.86 78.51,134.89 78.64,134.93 78.77,134.96 78.91,134.99 79.04,135.03 79.17,135.06 79.31,135.09 79.44,135.13 79.57,135.16 79.71,135.19 79.84,135.23 79.97,135.26 80.11,135.29 80.24,135.33 80.37,135.36 80.51,135.39 80.64,135.43 80.77,135.46 80.91,135.50 81.04,135.53 81.17,135.56 81.31,135.60 81.44,135.63 81.57,135.66 81.71,135.70 81.84,135.73 81.97,135.76 82.10,135.80 82.24,135.83 82.37,135.86 82.50,135.90 82.64,135.93 82.77,135.96 82.90,136.00 83.04,136.03 83.17,136.07 83.30,136.10 83.44,136.13 83.57,136.16 83.70,136.20 83.84,136.23 83.97,136.26 84.10,136.28 84.24,136.31 84.37,136.33 84.50,136.36 84.64,136.38 84.77,136.40 84.90,136.42 85.04,136.44 85.17,136.46 85.30,136.48 85.44,136.50 85.57,136.52 85.70,136.54 85.83,136.56 85.97,136.58 86.10,136.60 86.23,136.62 86.37,136.64 86.50,136.66 86.63,136.68 86.77,136.70 86.90,136.72 87.03,136.74 87.17,136.76 87.30,136.78 87.43,136.80 87.57,136.82 87.70,136.84 87.83,136.86 87.97,136.88 88.10,136.90 88.23,136.92 88.37,136.94 88.50,136.96 88.63,136.98 88.77,137.00 88.90,137.02 89.03,137.04 89.17,137.06 89.30,137.08 89.43,137.10 89.56,137.12 89.70,137.14 89.83,137.16 89.96,137.18 90.10,137.20 90.23,137.22 90.36,137.24 90.50,137.26 90.63,137.28 90.76,137.29 90.90,137.31 91.03,137.33 91.16,137.35 91.30,137.37 91.43,137.39 91.56,137.41 91.70,137.43 91.83,137.45 91.96,137.47 92.10,137.49 92.23,137.51 92.36,137.53 92.50,137.55 92.63,137.57 92.76,137.58 92.90,137.59 93.03,137.60 93.16,137.62 93.29,137.62 93.43,137.63 93.56,137.64 93.69,137.65 93.83,137.65 93.96,137.66 94.09,137.67 94.23,137.68 94.36,137.68 94.49,137.69 94.63,137.70 94.76,137.70 94.89,137.71 95.03,137.72 95.16,137.73 95.29,137.73 95.43,137.74 95.56,137.75 95.69,137.75 95.83,137.76 95.96,137.77 96.09,137.78 96.23,137.78 96.36,137.79 96.49,137.80 96.63,137.80 96.76,137.81 96.89,137.82 97.02,137.83 97.16,137.83 97.29,137.84 97.42,137.85 97.56,137.85 97.69,137.86 97.82,137.87 97.96,137.88 98.09,137.88 98.22,137.89 98.36,137.90 98.49,137.90 98.62,137.91 98.76,137.92 98.89,137.93 99.02,137.93 99.16,137.94 99.29,137.95 99.42,137.95 99.56,137.96 99.69,137.97 99.82,137.98 99.96,137.98 100.09,137.99 100.22,138.00 100.36,138.00 100.49,138.01 100.62,138.02 100.75,138.03 100.89,138.03 101.02,138.04 101.15,138.05 101.29,138.05 101.42,138.06 101.55,138.07 101.69,138.07 101.82,138.08 101.95,138.09 102.09,138.09 102.22,138.09 102.35,138.10 102.49,138.10 102.62,138.10 102.75,138.10 102.89,138.10 103.02,138.10 103.15,138.10 103.29,138.10 103.42,138.10 103.55,138.10 103.69,138.10 103.82,138.10 103.95,138.10 104.09,138.10 104.22,138.10 104.35,138.10 104.48,138.10 104.62,138.09 104.75,138.09 104.88,138.09 105.02,138.09 105.15,138.09 105.28,138.09 105.42,138.09 105.55,138.09 105.68,138.09 105.82,138.09 105.95,138.09 106.08,138.09 106.22,138.09 106.35,138.09 106.48,138.09 106.62,138.09 106.75,138.09 106.88,138.09 107.02,138.09 107.15,138.09 107.28,138.09 107.42,138.09 107.55,138.09 107.68,138.09 107.82,138.09 107.95,138.09 108.08,138.09 108.21,138.09 108.35,138.09 108.48,138.09 108.61,138.09 108.75,138.09 108.88,138.09 109.01,138.09 109.15,138.09 109.28,138.09 109.41,138.09 109.55,138.08 109.68,138.08 109.81,138.08 109.95,138.08 110.08,138.08 110.21,138.08 110.35,138.08 110.48,138.08 110.61,138.08 110.75,138.08 110.88,138.08 111.01,138.08 111.15,138.08 111.28,138.08 111.41,138.08 111.55,138.08 111.68,138.08 111.81,138.08 111.94,138.08 112.08,138.08 112.21,138.08 112.34,138.08 112.48,138.08 112.61,138.08 112.74,138.08 112.88,138.08 113.01,138.08 113.14,138.08 113.28,138.08 113.41,138.08 113.54,138.08 113.68,138.08 113.81,138.08 113.94,138.08 114.08,138.08 114.21,138.08 114.34,138.07 114.48,138.07 114.61,138.07 114.74,138.07 114.88,138.07 115.01,138.07 115.14,138.07 115.28,138.07 115.41,138.07 115.54,138.07 115.67,138.07 115.81,138.07 115.94,138.07 116.07,138.07 116.21,138.07 116.34,138.07 116.47,138.07 116.61,138.07 116.74,138.07 116.87,138.07 117.01,138.07 117.14,138.07 117.27,138.07 117.41,138.07 117.54,138.07 117.67,138.07 117.81,138.07 117.94,138.07 118.07,138.07 118.21,138.07 118.34,138.07 118.47,138.07 118.61,138.07 118.74,138.07 118.87,138.07 119.01,138.07 119.14,138.07 119.27,138.06 119.40,138.06 119.54,138.06 119.67,138.06 119.80,138.06 119.94,138.06 120.07,138.06 120.20,138.06 120.34,138.06 120.47,138.06 120.60,138.06 120.74,138.06 120.87,138.06 121.00,138.06 121.14,138.06 121.27,138.06 121.40,138.06 121.54,138.06 121.67,138.06 121.80,138.06 121.94,138.06 122.07,138.06 122.20,138.06 122.34,138.06 122.47,138.06 122.60,138.06 122.74,138.06 122.87,138.06 123.00,138.06 123.13,138.06 123.27,138.06 123.40,138.06 123.53,138.06 123.67,138.06 123.80,138.06 123.93,138.06 124.07,138.06 124.20,138.05 124.33,138.05 124.47,138.05 124.60,138.05 124.73,138.05 124.87,138.05 125.00,138.05 125.13,138.05 125.27,138.05 125.40,138.05 125.53,138.05 125.67,138.05 125.80,138.05 125.93,138.05 126.07,138.05 126.20,138.05 126.33,138.05 126.47,138.05 126.60,138.05 126.73,138.05 126.87,138.05 127.00,138.05 127.13,138.05 127.26,138.05 127.40,138.05 127.53,138.05 127.66,138.05 127.80,138.05 127.93,138.05 128.06,138.05 128.20,138.05 128.33,138.05 128.46,138.05 128.60,138.05 128.73,138.05 128.86,138.05 129.00,138.04 129.13,138.04 129.26,138.04 129.40,138.04 129.53,138.04 129.66,138.04 129.80,138.04 129.93,138.04 130.06,138.04 130.20,138.04 130.33,138.04 130.46,138.04 130.60,138.04 130.73,138.04 130.86,138.04 130.99,138.04 131.13,138.04 131.26,138.04 131.39,138.04 131.53,138.04 131.66,138.04 131.79,138.04 131.93,138.04 132.06,138.04 132.19,138.04 132.33,138.04 132.46,138.04 132.59,138.04 132.73,138.04 132.86,138.04 132.99,138.04 133.13,138.04 133.26,138.04 133.39,138.04 133.53,138.04 133.66,138.04 133.79,138.04 133.93,138.03 134.06,138.03 134.19,138.03 134.33,138.03 134.46,138.03 134.59,138.03 134.72,138.03 134.86,138.03 134.99,138.03 135.12,138.03 135.26,138.03 135.39,138.03 135.52,138.03 135.66,138.03 135.79,138.03 135.92,138.03 136.06,138.03 136.19,138.03 136.32,138.03 136.46,138.03 136.59,138.03 136.72,138.03 136.86,138.03 136.99,138.03 137.12,138.03 137.26,138.03 137.39,138.03 137.52,138.03 137.66,138.03 137.79,138.03 137.92,138.03 138.06,138.03 138.19,138.03 138.32,138.03 138.45,138.03 138.59,138.03 138.72,138.03 138.85,138.02 138.99,138.02 139.12,138.02 139.25,138.02 139.39,138.02 139.52,138.02 139.65,138.02 139.79,138.02 139.92,138.02 140.05,138.02 140.19,138.02 140.32,138.02 140.45,138.02 140.59,138.02 140.72,138.02 140.85,138.02 140.99,138.02 141.12,138.02 141.25,138.02 141.39,138.02 141.52,138.02 141.65,138.02 141.79,138.02 141.92,138.02 142.05,138.02 142.18,138.02 142.32,138.02 142.45,138.02 142.58,138.02 142.72,138.02 142.85,138.02 142.98,138.02 143.12,138.02 143.25,138.02 143.38,138.02 143.52,138.02 143.65,138.01 143.78,138.01 143.92,138.01 144.05,138.01 144.18,138.01 144.32,138.01 144.45,138.01 144.58,138.01 144.72,138.01 144.85,138.01 144.98,138.01 145.12,138.01 145.25,138.01 145.38,138.01 145.52,138.01 145.65,138.01 145.78,138.01 145.91,138.01 146.05,138.01 146.18,138.01 146.31,138.01 146.45,138.01 146.58,138.01 146.71,138.01 146.85,138.01 146.98,138.01 147.11,138.01 147.25,138.01 147.38,138.01 147.51,138.01 147.65,138.01 147.78,138.01 147.91,138.01 148.05,138.01 148.18,138.01 148.31,138.01 148.45,138.01 148.58,138.00 148.71,138.00 148.85,138.00 148.98,138.00 149.11,138.00 149.25,138.00 149.38,138.00 149.51,138.00 149.64,138.00 149.78,138.00 149.91,138.00 150.04,138.00 150.18,138.00 150.31,138.00 150.44,138.00 150.58,138.00 150.71,138.00 150.84,138.00 150.98,138.00 151.11,138.00 151.24,138.00 151.38,138.00 151.51,138.00 151.64,138.00 151.78,138.00 151.91,138.00 152.04,138.00 152.18,138.00 152.31,138.00 152.44,138.00 152.58,138.00 152.71,138.00 152.84,138.00 152.98,138.00 153.11,138.00 153.24,138.00 153.37,138.00 153.51,138.00 153.64,138.00 153.77,138.00 153.91,138.00 154.04,138.00 154.17,138.00 154.31,138.00 154.44,138.00 154.57,138.00 154.71,138.00 154.84,138.00 154.97,138.00 155.11,138.00 155.24,138.00 155.37,138.00 155.51,138.00 155.64,138.00 155.77,138.00 155.91,138.00 156.04,138.00 156.17,138.00 156.31,138.00 156.44,138.00 156.57,137.99 156.71,137.99 156.84,137.98 156.97,137.98 157.10,137.97 157.24,137.96 157.37,137.96 157.50,137.95 157.64,137.94 157.77,137.93 157.90,137.93 158.04,137.92 158.17,137.91 158.30,137.90 158.44,137.89 158.57,137.89 158.70,137.88 158.84,137.87 158.97,137.86 159.10,137.85 159.24,137.85 159.37,137.84 159.50,137.83 159.64,137.82 159.77,137.81 159.90,137.80 160.04,137.80 160.17,137.79 160.30,137.78 160.44,137.77 160.57,137.76 160.70,137.76 160.83,137.75 160.97,137.74 161.10,137.73 161.23,137.72 161.37,137.72 161.50,137.71 161.63,137.70 161.77,137.69 161.90,137.68 162.03,137.68 162.17,137.67 162.30,137.66 162.43,137.65 162.57,137.64 162.70,137.64 162.83,137.63 162.97,137.62 163.10,137.61 163.23,137.60 163.37,137.60 163.50,137.59 163.63,137.58 163.77,137.57 163.90,137.56 164.03,137.56 164.17,137.55 164.30,137.54 164.43,137.53 164.56,137.52 164.70,137.52 164.83,137.51 164.96,137.50 165.10,137.49 165.23,137.48 165.36,137.48 165.50,137.47 165.63,137.46 165.76,137.45 165.90,137.44 166.03,137.44 166.16,137.43 166.30,137.42 166.43,137.41 166.56,137.40 166.70,137.40 166.83,137.39 166.96,137.38 167.10,137.37 167.23,137.36 167.36,137.36 167.50,137.35 167.63,137.34 167.76,137.34 167.90,137.34 168.03,137.35 168.16,137.36 168.29,137.38 168.43,137.41 168.56,137.45 168.69,137.50 168.83,137.55 168.96,137.61 169.09,137.66 169.23,137.72 169.36,137.78 169.49,137.84 169.63,137.91 169.76,137.97 169.89,138.03 170.03,138.09 170.16,138.15 170.29,138.21 170.43,138.27 170.56,138.33 170.69,138.39 170.83,138.45 170.96,138.51 171.09,138.57 171.23,138.63 171.36,138.69 171.49,138.75 171.63,138.81 171.76,138.87 171.89,138.93 172.02,138.99 172.16,139.06 172.29,139.12 172.42,139.18 172.56,139.24 172.69,139.29 172.82,139.35 172.96,139.40 173.09,139.45 173.22,139.49 173.36,139.53 173.49,139.55 173.62,139.57 173.76,139.59 173.89,139.59 174.02,139.60 174.16,139.60 174.29,139.60 174.42,139.60 174.56,139.60 174.69,139.60 174.82,139.60 174.96,139.60 175.09,139.60 175.22,139.60 175.36,139.60 175.49,139.60 175.62,139.60 175.75,139.60 175.89,139.60 176.02,139.60 176.15,139.60 176.29,139.60 176.42,139.60 176.55,139.60 176.69,139.60 176.82,139.60 176.95,139.60 177.09,139.60 177.22,139.60 177.35,139.60 177.49,139.60 177.62,139.60 177.75,139.60 177.89,139.60 178.02,139.60 178.15,139.60 178.29,139.60 178.42,139.60 178.55,139.60 178.69,139.60 178.82,139.60 178.95,139.60 179.09,139.60 179.22,139.60 179.35,139.60 179.48,139.60 179.62,139.60 179.75,139.60 179.88,139.60 180.02,139.60 180.15,139.60 180.28,139.60 180.42,139.60 180.55,139.60 180.68,139.60 180.82,139.60 180.95,139.60 181.08,139.60 181.22,139.60 181.35,139.60 181.48,139.60 181.62,139.60 181.75,139.60 181.88,139.60 182.02,139.60 182.15,139.60 182.28,139.60 182.42,139.60 182.55,139.60 182.68,139.60 182.82,139.60 182.95,139.60 183.08,139.60 183.21,139.60 183.35,139.60 183.48,139.60 183.61,139.60 183.75,139.60 183.88,139.60 184.01,139.60 184.15,139.60 184.28,139.60 184.41,139.60 184.55,139.60 184.68,139.60 184.81,139.60 184.95,139.60 185.08,139.60 185.21,139.60 185.35,139.60 185.48,139.60 185.61,139.60 185.75,139.61 185.88,139.61 186.01,139.61 186.15,139.61 186.28,139.62 186.41,139.62 186.55,139.62 186.68,139.63 186.81,139.63 186.94,139.63 187.08,139.64 187.21,139.64 187.34,139.64 187.48,139.65 187.61,139.65 187.74,139.65 187.88,139.66 188.01,139.66 188.14,139.66 188.28,139.67 188.41,139.67 188.54,139.67 188.68,139.68 188.81,139.68 188.94,139.68 189.08,139.68 189.21,139.69 189.34,139.69 189.48,139.69 189.61,139.70 189.74,139.70 189.88,139.70 190.01,139.71 190.14,139.71 190.28,139.71 190.41,139.72 190.54,139.72 190.67,139.72 190.81,139.73 190.94,139.73 191.07,139.73 191.21,139.74 191.34,139.74 191.47,139.74 191.61,139.75 191.74,139.75 191.87,139.75 192.01,139.76 192.14,139.76 192.27,139.76 192.41,139.77 192.54,139.77 192.67,139.77 192.81,139.78 192.94,139.78 193.07,139.78 193.21,139.79 193.34,139.79 193.47,139.79 193.61,139.80 193.74,139.80 193.87,139.80 194.01,139.81 194.14,139.81 194.27,139.81 194.40,139.82 194.54,139.82 194.67,139.82 194.80,139.83 194.94,139.83 195.07,139.83 195.20,139.83 195.34,139.84 195.47,139.84 195.60,139.84 195.74,139.85 195.87,139.85 196.00,139.85 196.14,139.86 196.27,139.86 196.40,139.86 196.54,139.87 196.67,139.87 196.80,139.87 196.94,139.88 197.07,139.88 197.20,139.88 197.34,139.89 197.47,139.89 197.60,139.89 197.74,139.90 197.87,139.90 198.00,139.90 198.13,139.91 198.27,139.91 198.40,139.91 198.53,139.92 198.67,139.92 198.80,139.92 198.93,139.93 199.07,139.93 199.20,139.93 199.33,139.94 199.47,139.94 199.60,139.94 199.73,139.95 199.87,139.95 200.00,139.95 200.13,139.96 200.27,139.96 200.40,139.96 200.53,139.97 200.67,139.97 200.80,139.97 200.93,139.98 201.07,139.98 201.20,139.98 201.33,139.98 201.47,139.99 201.60,139.99 201.73,139.99 201.87,140.00 202.00,140.00 202.13,140.00 202.26,140.01 202.40,140.01 202.53,140.01 202.66,140.02 202.80,140.02 202.93,140.02 203.06,140.03 203.20,140.03 203.33,140.03 203.46,140.04 203.60,140.04 203.73,140.04 203.86,140.05 204.00,140.05 204.13,140.05 204.26,140.06 204.40,140.06 204.53,140.06 204.66,140.07 204.80,140.07 204.93,140.07 205.06,140.08 205.20,140.08 205.33,140.08 205.46,140.09 205.60,140.10 205.73,140.11 205.86,140.13 205.99,140.15 206.13,140.18 206.26,140.21 206.39,140.25 206.53,140.29 206.66,140.34 206.79,140.38 206.93,140.43 207.06,140.48 207.19,140.53 207.33,140.58 207.46,140.63 207.59,140.68 207.73,140.73 207.86,140.78 207.99,140.83 208.13,140.88 208.26,140.93 208.39,140.98 208.53,141.02 208.66,141.07 208.79,141.10 208.93,141.13 209.06,141.16 209.19,141.18 209.33,141.19 209.46,141.20 209.59,141.21 209.72,141.21 209.86,141.21 209.99,141.22 210.12,141.22 210.26,141.22 210.39,141.22 210.52,141.22 210.66,141.23 210.79,141.23 210.92,141.23 211.06,141.23 211.19,141.23 211.32,141.24 211.46,141.24 211.59,141.24 211.72,141.24 211.86,141.24 211.99,141.25 212.12,141.25 212.26,141.25 212.39,141.25 212.52,141.25 212.66,141.26 212.79,141.26 212.92,141.26 213.06,141.26 213.19,141.26 213.32,141.27 213.45,141.27 213.59,141.27 213.72,141.27 213.85,141.27 213.99,141.28 214.12,141.28 214.25,141.28 214.39,141.28 214.52,141.29 214.65,141.29 214.79,141.29 214.92,141.29 215.05,141.29 215.19,141.30 215.32,141.30 215.45,141.30 215.59,141.30 215.72,141.30 215.85,141.31 215.99,141.31 216.12,141.31 216.25,141.31 216.39,141.31 216.52,141.32 216.65,141.32 216.79,141.32 216.92,141.32 217.05,141.32 217.18,141.33 217.32,141.33 217.45,141.33 217.58,141.33 217.72,141.33 217.85,141.34 217.98,141.34 218.12,141.34 218.25,141.34 218.38,141.34 218.52,141.35 218.65,141.35 218.78,141.35 218.92,141.35 219.05,141.35 219.18,141.36 219.32,141.36 219.45,141.36 219.58,141.36 219.72,141.36 219.85,141.37 219.98,141.37 220.12,141.37 220.25,141.37 220.38,141.37 220.52,141.38 220.65,141.38 220.78,141.38 220.91,141.38 221.05,141.38 221.18,141.39 221.31,141.39 221.45,141.39 221.58,141.39 221.71,141.39 221.85,141.38 221.98,141.37 222.11,141.36 222.25,141.34 222.38,141.32 222.51,141.30 222.65,141.28 222.78,141.26 222.91,141.23 223.05,141.21 223.18,141.18 223.31,141.16 223.45,141.13 223.58,141.11 223.71,141.08 223.85,141.06 223.98,141.03 224.11,141.01 224.25,140.98 224.38,140.96 224.51,140.93 224.64,140.91 224.78,140.88 224.91,140.86 225.04,140.83 225.18,140.81 225.31,140.78 225.44,140.76 225.58,140.73 225.71,140.71 225.84,140.68 225.98,140.66 226.11,140.63 226.24,140.61 226.38,140.58 226.51,140.56 226.64,140.53 226.78,140.51 226.91,140.48 227.04,140.46 227.18,140.43 227.31,140.41 227.44,140.38 227.58,140.36 227.71,140.33 227.84,140.31 227.98,140.28 228.11,140.26 228.24,140.23 228.37,140.21 228.51,140.18 228.64,140.16 228.77,140.13 228.91,140.11 229.04,140.08 229.17,140.06 229.31,140.03 229.44,140.01 229.57,139.98 229.71,139.96 229.84,139.94 229.97,139.91 230.11,139.89 230.24,139.88 230.37,139.87 230.51,139.86 230.64,139.86 230.77,139.87 230.91,139.88 231.04,139.90 231.17,139.92 231.31,139.94 231.44,139.97 231.57,139.99 231.71,140.02 231.84,140.04 231.97,140.07 232.10,140.09 232.24,140.12 232.37,140.14 232.50,140.17 232.64,140.19 232.77,140.22 232.90,140.24 233.04,140.27 233.17,140.29 233.30,140.32 233.44,140.34 233.57,140.37 233.70,140.39 233.84,140.42 233.97,140.44 234.10,140.47 234.24,140.49 234.37,140.52 234.50,140.54 234.64,140.57 234.77,140.59 234.90,140.62 235.04,140.64 235.17,140.67 235.30,140.69 235.44,140.72 235.57,140.74 235.70,140.76 235.83,140.79 235.97,140.81 236.10,140.82 236.23,140.83 236.37,140.84 236.50,140.83 236.63,140.83 236.77,140.81 236.90,140.79 237.03,140.77 237.17,140.74 237.30,140.72 237.43,140.69 237.57,140.66 237.70,140.63 237.83,140.61 237.97,140.58 238.10,140.55 238.23,140.52 238.37,140.50 238.50,140.47 238.63,140.44 238.77,140.41 238.90,140.39 239.03,140.36 239.17,140.33 239.30,140.30 239.43,140.28 239.56,140.25 239.70,140.22 239.83,140.19 239.96,140.17 240.10,140.14 240.23,140.11 240.36,140.08 240.50,140.06 240.63,140.03 240.76,140.00 240.90,139.97 241.03,139.95 241.16,139.92 241.30,139.89 241.43,139.86 241.56,139.84 241.70,139.81 241.83,139.78 241.96,139.75 242.10,139.73 242.23,139.70 242.36,139.67 242.50,139.65 242.63,139.62 242.76,139.59 242.90,139.56 243.03,139.54 243.16,139.51 243.29,139.48 243.43,139.45 243.56,139.43 243.69,139.40 243.83,139.37 243.96,139.34 244.09,139.32 244.23,139.29 244.36,139.26 244.49,139.23 244.63,139.21 244.76,139.18 244.89,139.15 245.03,139.12 245.16,139.10 245.29,139.07 245.43,139.04 245.56,139.01 245.69,138.99 245.83,138.96 245.96,138.93 246.09,138.90 246.23,138.88 246.36,138.85 246.49,138.82 246.63,138.79 246.76,138.77 246.89,138.74 247.02,138.71 247.16,138.68 247.29,138.65 247.42,138.62 247.56,138.59 247.69,138.55 247.82,138.51 247.96,138.46 248.09,138.40 248.22,138.34 248.36,138.26 248.49,138.18 248.62,138.10 248.76,138.01 248.89,137.92 249.02,137.83 249.16,137.74 249.29,137.65 249.42,137.55 249.56,137.46 249.69,137.37 249.82,137.28 249.96,137.19 250.09,137.10 250.22,137.01 250.36,136.91 250.49,136.82 250.62,136.73 250.75,136.64 250.89,136.55 251.02,136.46 251.15,136.37 251.29,136.27 251.42,136.18 251.55,136.09 251.69,136.00 251.82,135.91 251.95,135.82 252.09,135.73 252.22,135.63 252.35,135.54 252.49,135.45 252.62,135.36 252.75,135.27 252.89,135.18 253.02,135.09 253.15,134.99 253.29,134.90 253.42,134.81 253.55,134.72 253.69,134.63 253.82,134.54 253.95,134.45 254.09,134.35 254.22,134.26 254.35,134.17 254.48,134.08 254.62,133.99 254.75,133.90 254.88,133.82 255.02,133.74 255.15,133.67 255.28,133.61 255.42,133.56 255.55,133.52 255.68,133.48 255.82,133.46 255.95,133.44 256.08,133.42 256.22,133.40 256.35,133.39 256.48,133.37 256.62,133.36 256.75,133.34 256.88,133.33 257.02,133.31 257.15,133.30 257.28,133.28 257.42,133.27 257.55,133.25 257.68,133.24 257.82,133.22 257.95,133.21 258.08,133.19 258.21,133.18 258.35,133.16 258.48,133.15 258.61,133.13 258.75,133.12 258.88,133.10 259.01,133.09 259.15,133.08 259.28,133.06 259.41,133.05 259.55,133.03 259.68,133.02 259.81,133.00 259.95,132.99 260.08,132.97 260.21,132.96 260.35,132.94 260.48,132.93 260.61,132.91 260.75,132.90 260.88,132.88 261.01,132.87 261.15,132.85 261.28,132.84 261.41,132.82 261.55,132.81 261.68,132.79 261.81,132.78 261.94,132.76 262.08,132.74 262.21,132.72 262.34,132.69 262.48,132.66 262.61,132.62 262.74,132.58 262.88,132.53 263.01,132.48 263.14,132.43 263.28,132.37 263.41,132.31 263.54,132.25 263.68,132.20 263.81,132.14 263.94,132.08 264.08,132.02 264.21,131.96 264.34,131.91 264.48,131.85 264.61,131.79 264.74,131.73 264.88,131.67 265.01,131.61 265.14,131.56 265.28,131.50 265.41,131.44 265.54,131.38 265.67,131.32 265.81,131.27 265.94,131.21 266.07,131.15 266.21,131.09 266.34,131.04 266.47,130.99 266.61,130.95 266.74,130.91 266.87,130.89 267.01,130.87 267.14,130.86 267.27,130.86 267.41,130.87 267.54,130.88 267.67,130.89 267.81,130.90 267.94,130.92 268.07,130.93 268.21,130.94 268.34,130.96 268.47,130.97 268.61,130.99 268.74,131.00 268.87,131.02 269.01,131.03 269.14,131.04 269.27,131.06 269.40,131.07 269.54,131.09 269.67,131.10 269.80,131.12 269.94,131.13 270.07,131.14 270.20,131.16 270.34,131.17 270.47,131.19 270.60,131.20 270.74,131.22 270.87,131.23 271.00,131.24 271.14,131.26 271.27,131.27 271.40,131.29 271.54,131.30 271.67,131.32 271.80,131.33 271.94,131.35 272.07,131.36 272.20,131.37 272.34,131.39 272.47,131.40 272.60,131.42 272.74,131.43 272.87,131.45 273.00,131.46 273.13,131.47 273.27,131.49 273.40,131.50 273.53,131.52 273.67,131.53 273.80,131.55 273.93,131.56 274.07,131.57 274.20,131.59 274.33,131.60 274.47,131.62 274.60,131.63 274.73,131.65 274.87,131.66 275.00,131.68 275.13,131.69 275.27,131.70 275.40,131.72 275.53,131.73 275.67,131.75 275.80,131.76 275.93,131.78 276.07,131.79 276.20,131.80 276.33,131.82 276.47,131.83 276.60,131.84 276.73,131.85 276.87,131.85 277.00,131.85 277.13,131.84 277.26,131.83 277.40,131.81 277.53,131.78 277.66,131.76 277.80,131.73 277.93,131.70 278.06,131.66 278.20,131.63 278.33,131.60 278.46,131.57 278.60,131.54 278.73,131.50 278.86,131.47 279.00,131.44 279.13,131.41 279.26,131.37 279.40,131.34 279.53,131.31 279.66,131.28 279.80,131.25 279.93,131.21 280.06,131.18 280.20,131.15 280.33,131.12 280.46,131.09 280.60,131.05 280.73,131.02 280.86,130.99 280.99,130.96 281.13,130.92 281.26,130.89 281.39,130.86 281.53,130.83 281.66,130.80 281.79,130.76 281.93,130.73 282.06,130.70 282.19,130.67 282.33,130.64 282.46,130.60 282.59,130.57 282.73,130.54 282.86,130.51 282.99,130.47 283.13,130.44 283.26,130.41 283.39,130.38 283.53,130.35 283.66,130.31 283.79,130.28 283.93,130.25 284.06,130.22 284.19,130.19 284.33,130.15 284.46,130.12 284.59,130.09 284.72,130.06 284.86,130.02 284.99,129.99 285.12,129.96 285.26,129.93 285.39,129.89 285.52,129.86 285.66,129.83 285.79,129.79 285.92,129.75 286.06,129.72 286.19,129.68 286.32,129.64 286.46,129.60 286.59,129.56 286.72,129.52 286.86,129.48 286.99,129.44 287.12,129.40 287.26,129.36 287.39,129.32 287.52,129.28 287.66,129.24 287.79,129.20 287.92,129.16 288.06,129.12 288.19,129.08 288.32,129.04 288.45,129.00 288.59,128.95 288.72,128.91 288.85,128.87 288.99,128.83 289.12,128.79 289.25,128.75 289.39,128.71 289.52,128.67 289.65,128.63 289.79,128.59 289.92,128.55 290.05,128.51 290.19,128.47 290.32,128.43 290.45,128.39 290.59,128.35 290.72,128.31 290.85,128.27 290.99,128.23 291.12,128.19 291.25,128.15 291.39,128.11 291.52,128.07 291.65,128.03 291.79,127.99 291.92,127.95 292.05,127.91 292.18,127.87 292.32,127.83 292.45,127.79 292.58,127.75 292.72,127.72 292.85,127.68 292.98,127.66 293.12,127.63 293.25,127.61 293.38,127.59 293.52,127.58 293.65,127.57 293.78,127.56 293.92,127.55 294.05,127.54 294.18,127.53 294.32,127.53 294.45,127.52 294.58,127.51 294.72,127.50 294.85,127.49 294.98,127.49 295.12,127.48 295.25,127.47 295.38,127.46 295.52,127.45 295.65,127.45 295.78,127.44 295.91,127.43 296.05,127.42 296.18,127.41 296.31,127.41 296.45,127.40 296.58,127.39 296.71,127.38 296.85,127.37 296.98,127.37 297.11,127.36 297.25,127.35 297.38,127.34 297.51,127.33 297.65,127.33 297.78,127.32 297.91,127.31 298.05,127.30 298.18,127.29 298.31,127.29 298.45,127.28 298.58,127.27 298.71,127.26 298.85,127.25 298.98,127.25 299.11,127.24 299.25,127.23 299.38,127.22 299.51,127.22 299.64,127.21 299.78,127.20 299.91,127.19 300.04,127.18 300.18,127.18 300.31,127.17 300.44,127.16 300.58,127.15 300.71,127.14 300.84,127.14 300.98,127.13 301.11,127.12 301.24,127.11 301.38,127.10 301.51,127.10 301.64,127.09 301.78,127.08 301.91,127.07 302.04,127.06 302.18,127.06 302.31,127.05 302.44,127.04 302.58,127.03 302.71,127.02 302.84,127.02 302.98,127.01 303.11,127.00 303.24,127.00 303.37,126.99 303.51,126.98 303.64,126.98 303.77,126.97 303.91,126.97 304.04,126.96 304.17,126.95 304.31,126.95 304.44,126.94 304.57,126.94 304.71,126.93 304.84,126.93 304.97,126.92 305.11,126.91 305.24,126.91 305.37,126.90 305.51,126.90 305.64,126.89 305.77,126.89 305.91,126.88 306.04,126.87 306.17,126.87 306.31,126.86 306.44,126.86 306.57,126.85 306.71,126.85 306.84,126.84 306.97,126.83 307.10,126.83 307.24,126.82 307.37,126.82 307.50,126.81 307.64,126.81 307.77,126.80 307.90,126.79 308.04,126.79 308.17,126.78 308.30,126.78 308.44,126.77 308.57,126.77 308.70,126.76 308.84,126.75 308.97,126.75 309.10,126.74 309.24,126.74 309.37,126.73 309.50,126.73 309.64,126.72 309.77,126.71 309.90,126.71 310.04,126.70 310.17,126.70 310.30,126.69 310.44,126.69 310.57,126.68 310.70,126.67 310.83,126.67 310.97,126.66 311.10,126.66 311.23,126.65 311.37,126.65 311.50,126.64 311.63,126.63 311.77,126.63 311.90,126.62 312.03,126.62 312.17,126.61 312.30,126.60 312.43,126.60 312.57,126.59 312.70,126.59 312.83,126.58 312.97,126.58 313.10,126.57 313.23,126.56 313.37,126.56 313.50,126.55 313.63,126.55 313.77,126.54 313.90,126.54 314.03,126.53 314.17,126.53 314.30,126.53 314.43,126.53 314.56,126.53 314.70,126.54 314.83,126.55 314.96,126.57 315.10,126.59 315.23,126.62 315.36,126.64 315.50,126.67 315.63,126.70 315.76,126.73 315.90,126.76 316.03,126.79 316.16,126.82 316.30,126.85 316.43,126.88 316.56,126.91 316.70,126.94 316.83,126.97 316.96,127.00 317.10,127.03 317.23,127.06 317.36,127.09 317.50,127.12 317.63,127.15 317.76,127.18 317.90,127.21 318.03,127.24 318.16,127.27 318.29,127.30 318.43,127.33 318.56,127.36 318.69,127.39 318.83,127.42 318.96,127.45 319.09,127.48 319.23,127.51 319.36,127.54 319.49,127.57 319.63,127.60 319.76,127.63 319.89,127.66 320.03,127.68 320.16,127.71 320.29,127.72 320.43,127.74 320.56,127.74 320.69,127.74 320.83,127.74 320.96,127.73 321.09,127.72 321.23,127.70 321.36,127.68 321.49,127.67 321.63,127.65 321.76,127.63 321.89,127.61 322.02,127.59 322.16,127.58 322.29,127.56 322.42,127.54 322.56,127.52 322.69,127.50 322.82,127.48 322.96,127.47 323.09,127.45 323.22,127.43 323.36,127.41 323.49,127.39 323.62,127.38 323.76,127.36 323.89,127.34 324.02,127.32 324.16,127.30 324.29,127.28 324.42,127.27 324.56,127.25 324.69,127.23 324.82,127.21 324.96,127.19 325.09,127.18 325.22,127.16 325.36,127.14 325.49,127.12 325.62,127.11 325.75,127.09 325.89,127.09 326.02,127.09 326.15,127.10 326.29,127.12 326.42,127.16 326.55,127.21 326.69,127.28 326.82,127.36 326.95,127.45 327.09,127.54 327.22,127.64 327.35,127.74 327.49,127.84 327.62,127.94 327.75,128.04 327.89,128.14 328.02,128.25 328.15,128.35 328.29,128.45 328.42,128.55 328.55,128.65 328.69,128.75 328.82,128.85 328.95,128.95 329.09,129.05 329.22,129.16 329.35,129.26 329.48,129.36 329.62,129.46 329.75,129.56 329.88,129.66 330.02,129.76 330.15,129.85 330.28,129.95 330.42,130.04 330.55,130.12 330.68,130.19 330.82,130.25 330.95,130.30 331.08,130.34 331.22,130.38 331.35,130.41 331.48,130.44 331.62,130.47 331.75,130.49 331.88,130.52 332.02,130.55 332.15,130.57 332.28,130.60 332.42,130.62 332.55,130.65 332.68,130.67 332.82,130.70 332.95,130.72 333.08,130.75 333.21,130.77 333.35,130.80 333.48,130.82 333.61,130.85 333.75,130.88 333.88,130.90 334.01,130.93 334.15,130.95 334.28,130.98 334.41,131.00 334.55,131.03 334.68,131.05 334.81,131.08 334.95,131.10 335.08,131.13 335.21,131.15 335.35,131.18 335.48,131.21 335.61,131.23 335.75,131.26 335.88,131.28 336.01,131.31 336.15,131.33 336.28,131.35 336.41,131.38 336.55,131.40 336.68,131.42 336.81,131.44 336.94,131.47 337.08,131.49 337.21,131.51 337.34,131.53 337.48,131.55 337.61,131.57 337.74,131.59 337.88,131.61 338.01,131.63 338.14,131.65 338.28,131.67 338.41,131.69 338.54,131.71 338.68,131.73 338.81,131.74 338.94,131.76 339.08,131.78 339.21,131.80 339.34,131.82 339.48,131.84 339.61,131.86 339.74,131.88 339.88,131.90 340.01,131.92 340.14,131.94 340.28,131.96 340.41,131.98 340.54,132.00 340.67,132.02 340.81,132.04 340.94,132.06 341.07,132.08 341.21,132.10 341.34,132.12 341.47,132.14 341.61,132.16 341.74,132.18 341.87,132.20 342.01,132.22 342.14,132.24 342.27,132.26 342.41,132.28 342.54,132.30 342.67,132.32 342.81,132.34 342.94,132.36 343.07,132.38 343.21,132.40 343.34,132.42 343.47,132.44 343.61,132.46 343.74,132.48 343.87,132.50 344.01,132.52 344.14,132.54 344.27,132.56 344.40,132.58 344.54,132.60 344.67,132.62 344.80,132.64 344.94,132.65 345.07,132.67 345.20,132.68 345.34,132.69 345.47,132.69 345.60,132.70 345.74,132.70 345.87,132.70 346.00,132.70 346.14,132.70 346.27,132.70 346.40,132.70 346.54,132.70 346.67,132.70 346.80,132.70 346.94,132.70 347.07,132.70 347.20,132.70 347.34,132.70 347.47,132.70 347.60,132.70 347.74,132.70 347.87,132.70 348.00,132.70 348.13,132.70 348.27,132.70 348.40,132.70 348.53,132.70 348.67,132.70 348.80,132.70 348.93,132.70 349.07,132.70 349.20,132.70 349.33,132.70 349.47,132.70 349.60,132.70 349.73,132.70 349.87,132.70 350.00,132.70 350.13,132.70 350.27,132.70 350.40,132.70 350.53,132.70 350.67,132.70 350.80,132.70 350.93,132.70 351.07,132.70 351.20,132.70 351.33,132.70 351.47,132.70 351.60,132.70 351.73,132.70 351.87,132.70 352.00,132.70 352.13,132.70 352.26,132.70 352.40,132.70 352.53,132.70 352.66,132.70 352.80,132.70 352.93,132.70 353.06,132.70 353.20,132.70 353.33,132.70 353.46,132.70 353.60,132.70 353.73,132.70 353.86,132.70 354.00,132.70 354.13,132.70 354.26,132.70 354.40,132.70 354.53,132.70 354.66,132.70 354.80,132.70 354.93,132.70 355.06,132.70 355.20,132.70 355.33,132.70 355.46,132.70 355.60,132.70 355.73,132.70 355.86,132.70 355.99,132.70 356.13,132.70 356.26,132.70 356.39,132.70 356.53,132.70 356.66,132.70 356.79,132.70 356.93,132.70 357.06,132.70 357.19,132.70 357.33,132.70 357.46,132.70 357.59,132.70 357.73,132.70 357.86,132.70 357.99,132.70 358.13,132.70 358.26,132.70 358.39,132.70 358.53,132.70 358.66,132.70 358.79,132.70 358.93,132.70 359.06,132.70 359.19,132.71 359.33,132.72 359.46,132.73 359.59,132.75 359.72,132.78 359.86,132.82 359.99,132.87 360.12,132.93 360.26,132.99 360.39,133.06 360.52,133.14 360.66,133.21 360.79,133.29 360.92,133.36 361.06,133.44 361.19,133.52 361.32,133.59 361.46,133.67 361.59,133.75 361.72,133.82 361.86,133.90 361.99,133.98 362.12,134.05 362.26,134.13 362.39,134.21 362.52,134.28 362.66,134.36 362.79,134.43 362.92,134.51 363.06,134.59 363.19,134.66 363.32,134.74 363.45,134.81 363.59,134.89 363.72,134.96 363.85,135.02 363.99,135.08 364.12,135.13 364.25,135.17 364.39,135.21 364.52,135.23 364.65,135.26 364.79,135.28 364.92,135.29 365.05,135.31 365.19,135.33 365.32,135.34 365.45,135.36 365.59,135.38 365.72,135.39 365.85,135.41 365.99,135.42 366.12,135.44 366.25,135.46 366.39,135.47 366.52,135.49 366.65,135.50 366.79,135.52 366.92,135.54 367.05,135.55 367.18,135.57 367.32,135.58 367.45,135.60 367.58,135.61 367.72,135.63 367.85,135.65 367.98,135.66 368.12,135.67 368.25,135.69 368.38,135.70 368.52,135.71 368.65,135.72 368.78,135.73 368.92,135.74 369.05,135.75 369.18,135.76 369.32,135.77 369.45,135.78 369.58,135.79 369.72,135.80 369.85,135.81 369.98,135.82 370.12,135.83 370.25,135.83 370.38,135.84 370.52,135.85 370.65,135.86 370.78,135.87 370.91,135.88 371.05,135.89 371.18,135.90 371.31,135.91 371.45,135.92 371.58,135.93 371.71,135.94 371.85,135.94 371.98,135.95 372.11,135.96 372.25,135.97 372.38,135.98 372.51,135.99 372.65,136.00 372.78,136.01 372.91,136.02 373.05,136.03 373.18,136.04 373.31,136.05 373.45,136.06 373.58,136.06 373.71,136.07 373.85,136.08 373.98,136.09 374.11,136.10 374.25,136.11 374.38,136.12 374.51,136.13 374.64,136.14 374.78,136.15 374.91,136.16 375.04,136.17 375.18,136.17 375.31,136.18 375.44,136.19 375.58,136.20 375.71,136.21 375.84,136.22 375.98,136.23 376.11,136.24 376.24,136.25 376.38,136.26 376.51,136.26 376.64,136.27 376.78,136.28 376.91,136.28 377.04,136.29 377.18,136.29 377.31,136.29 377.44,136.29 377.58,136.29 377.71,136.29 377.84,136.29 377.98,136.29 378.11,136.28 378.24,136.28 378.37,136.28 378.51,136.28 378.64,136.28 378.77,136.28 378.91,136.27 379.04,136.27 379.17,136.27 379.31,136.27 379.44,136.27 379.57,136.26 379.71,136.26 379.84,136.26 379.97,136.26 380.11,136.26 380.24,136.26 380.37,136.25 380.51,136.25 380.64,136.25 380.77,136.25 380.91,136.25 381.04,136.24 381.17,136.24 381.31,136.24 381.44,136.24 381.57,136.24 381.71,136.24 381.84,136.23 381.97,136.23 382.10,136.23 382.24,136.23 382.37,136.23 382.50,136.22 382.64,136.22 382.77,136.22 382.90,136.22 383.04,136.22 383.17,136.22 383.30,136.21 383.44,136.21 383.57,136.21 383.70,136.21 383.84,136.21 383.97,136.20 384.10,136.20 384.24,136.20 384.37,136.20 384.50,136.20 384.64,136.20 384.77,136.19 384.90,136.19 385.04,136.19 385.17,136.19 385.30,136.19 385.44,136.18 385.57,136.18 385.70,136.18 385.83,136.18 385.97,136.18 386.10,136.17 386.23,136.17 386.37,136.17 386.50,136.17 386.63,136.17 386.77,136.17 386.90,136.16 387.03,136.16 387.17,136.16 387.30,136.16 387.43,136.16 387.57,136.15 387.70,136.15 387.83,136.15 387.97,136.15 388.10,136.15 388.23,136.15 388.37,136.14 388.50,136.14 388.63,136.14 388.77,136.14 388.90,136.14 389.03,136.13 389.17,136.13 389.30,136.13 389.43,136.13 389.56,136.13 389.70,136.13 389.83,136.12 389.96,136.12 390.10,136.12 390.23,136.12 390.36,136.12 390.50,136.11 390.63,136.11 390.76,136.11 390.90,136.11 391.03,136.11 391.16,136.11 391.30,136.10 391.43,136.10 391.56,136.10 391.70,136.10 391.83,136.10 391.96,136.09 392.10,136.09 392.23,136.09 392.36,136.09 392.50,136.09 392.63,136.09 392.76,136.08 392.90,136.08 393.03,136.08 393.16,136.08 393.29,136.08 393.43,136.07 393.56,136.07 393.69,136.07 393.83,136.07 393.96,136.07 394.09,136.07 394.23,136.06 394.36,136.06 394.49,136.06 394.63,136.06 394.76,136.06 394.89,136.05 395.03,136.05 395.16,136.05 395.29,136.05 395.43,136.05 395.56,136.05 395.69,136.04 395.83,136.04 395.96,136.04 396.09,136.04 396.23,136.04 396.36,136.03 396.49,136.03 396.63,136.03 396.76,136.03 396.89,136.03 397.02,136.02 397.16,136.02 397.29,136.02 397.42,136.02 397.56,136.02 397.69,136.02 397.82,136.01 397.96,136.01 398.09,136.01 398.22,136.01 398.36,136.01 398.49,136.00 398.62,136.00 398.76,135.99 398.89,135.99 399.02,135.98 399.16,135.98 399.29,135.97 399.42,135.96 399.56,135.95 399.69,135.94 399.82,135.93 399.96,135.92 400.09,135.91 400.22,135.91 400.36,135.90 400.49,135.89 400.62,135.88 400.75,135.87 400.89,135.86 401.02,135.85 401.15,135.84 401.29,135.83 401.42,135.82 401.55,135.81 401.69,135.80 401.82,135.79 401.95,135.79 402.09,135.78 402.22,135.77 402.35,135.76 402.49,135.75 402.62,135.74 402.75,135.74 402.89,135.73 403.02,135.73 403.15,135.73 403.29,135.73 403.42,135.74 403.55,135.75 403.69,135.76 403.82,135.77 403.95,135.78 404.09,135.80 404.22,135.81 404.35,135.82 404.48,135.84 404.62,135.85 404.75,135.87 404.88,135.88 405.02,135.90 405.15,135.91 405.28,135.92 405.42,135.94 405.55,135.95 405.68,135.97 405.82,135.98 405.95,136.00 406.08,136.01 406.22,136.03 406.35,136.04 406.48,136.05 406.62,136.07 406.75,136.08 406.88,136.10 407.02,136.11 407.15,136.13 407.28,136.14 407.42,136.15 407.55,136.17 407.68,136.18 407.82,136.20 407.95,136.21 408.08,136.23 408.21,136.24 408.35,136.25 408.48,136.27 408.61,136.28 408.75,136.30 408.88,136.31 409.01,136.33 409.15,136.34 409.28,136.36 409.41,136.37 409.55,136.38 409.68,136.40 409.81,136.41 409.95,136.43 410.08,136.44 410.21,136.46 410.35,136.47 410.48,136.48 410.61,136.50 410.75,136.51 410.88,136.53 411.01,136.54 411.15,136.56 411.28,136.57 411.41,136.58 411.55,136.60 411.68,136.61 411.81,136.63 411.94,136.64 412.08,136.66 412.21,136.67 412.34,136.69 412.48,136.70 412.61,136.71 412.74,136.73 412.88,136.74 413.01,136.75 413.14,136.76 413.28,136.77 413.41,136.78 413.54,136.79 413.68,136.79 413.81,136.80 413.94,136.80 414.08,136.80 414.21,136.80 414.34,136.80 414.48,136.80 414.61,136.80 414.74,136.80 414.88,136.80 415.01,136.80 415.14,136.80 415.28,136.80 415.41,136.80 415.54,136.80 415.67,136.80 415.81,136.80 415.94,136.80 416.07,136.80 416.21,136.80 416.34,136.80 416.47,136.80 416.61,136.80 416.74,136.80 416.87,136.80 417.01,136.80 417.14,136.80 417.27,136.80 417.41,136.80 417.54,136.80 417.67,136.80 417.81,136.80 417.94,136.80 418.07,136.80 418.21,136.80 418.34,136.80 418.47,136.80 418.61,136.80 418.74,136.80 418.87,136.80 419.01,136.80 419.14,136.80 419.27,136.80 419.40,136.80 419.54,136.80 419.67,136.80 419.80,136.80 419.94,136.80 420.07,136.80 420.20,136.80 420.34,136.80 420.47,136.80 420.60,136.80 420.74,136.80 420.87,136.80 421.00,136.80 421.14,136.80 421.27,136.80 421.40,136.80 421.54,136.80 421.67,136.80 421.80,136.80 421.94,136.80 422.07,136.80 422.20,136.80 422.34,136.80 422.47,136.80 422.60,136.80 422.74,136.80 422.87,136.80 423.00,136.80 423.13,136.80 423.27,136.80 423.40,136.80 423.53,136.80 423.67,136.80 423.80,136.80 423.93,136.80 424.07,136.80 424.20,136.80 424.33,136.80 424.47,136.80 424.60,136.80 424.73,136.80 424.87,136.80 425.00,136.80 425.13,136.80 425.27,136.80 425.40,136.80 425.53,136.80 425.67,136.80 425.80,136.80 425.93,136.80 426.07,136.80 426.20,136.80 426.33,136.80 426.47,136.80 426.60,136.80 426.73,136.80 426.87,136.80 427.00,136.80 427.13,136.80 427.26,136.80 427.40,136.80 427.53,136.80 427.66,136.80 427.80,136.80 427.93,136.80 428.06,136.80 428.20,136.80 428.33,136.80 428.46,136.80 428.60,136.80 428.73,136.80 428.86,136.80 429.00,136.80 429.13,136.80 429.26,136.80 429.40,136.80 429.53,136.80 429.66,136.80 429.80,136.80 429.93,136.80 430.06,136.80 430.20,136.80 430.33,136.80 430.46,136.80 430.60,136.80 430.73,136.80 430.86,136.80 430.99,136.80 431.13,136.80 431.26,136.80 431.39,136.80 431.53,136.80 431.66,136.80 431.79,136.80 431.93,136.80 432.06,136.80 432.19,136.80 432.33,136.80 432.46,136.80 432.59,136.80 432.73,136.80 432.86,136.80 432.99,136.80 433.13,136.80 433.26,136.80 433.39,136.80 433.53,136.80 433.66,136.80 433.79,136.80 433.93,136.80 434.06,136.80 434.19,136.80 434.33,136.80 434.46,136.80 434.59,136.80 434.72,136.80 434.86,136.80 434.99,136.80 435.12,136.80 435.26,136.80 435.39,136.80 435.52,136.80 435.66,136.80 435.79,136.80 435.92,136.80 436.06,136.80 436.19,136.80 436.32,136.80 436.46,136.80 436.59,136.80 436.72,136.80 436.86,136.80 436.99,136.80 437.12,136.80 437.26,136.80 437.39,136.80 437.52,136.80 437.66,136.80 437.79,136.80 437.92,136.80 438.06,136.80 438.19,136.80 438.32,136.80 438.45,136.80 438.59,136.80 438.72,136.80 438.85,136.80 438.99,136.80 439.12,136.80 439.25,136.80 439.39,136.80 439.52,136.80 439.65,136.80 439.79,136.80 439.92,136.80 440.05,136.80 440.19,136.80 440.32,136.80 440.45,136.80 440.59,136.81 440.72,136.82 440.85,136.83 440.99,136.85 441.12,136.89 441.25,136.93 441.39,136.99 441.52,137.06 441.65,137.14 441.79,137.22 441.92,137.31 442.05,137.41 442.18,137.50 442.32,137.60 442.45,137.69 442.58,137.79 442.72,137.88 442.85,137.98 442.98,138.07 443.12,138.17 443.25,138.26 443.38,138.36 443.52,138.45 443.65,138.53 443.78,138.62 443.92,138.69 444.05,138.75 444.18,138.80 444.32,138.84 444.45,138.86 444.58,138.88 444.72,138.89 444.85,138.90 444.98,138.90 445.12,138.90 445.25,138.90 445.38,138.90 445.52,138.90 445.65,138.90 445.78,138.90 445.91,138.90 446.05,138.90 446.18,138.90 446.31,138.90 446.45,138.90 446.58,138.90 446.71,138.90 446.85,138.90 446.98,138.90 447.11,138.90 447.25,138.90 447.38,138.90 447.51,138.90 447.65,138.90 447.78,138.90 447.91,138.90 448.05,138.90 448.18,138.90 448.31,138.90 448.45,138.90 448.58,138.90 448.71,138.90 448.85,138.90 448.98,138.90 449.11,138.90 449.25,138.90 449.38,138.90 449.51,138.90 449.64,138.90 449.78,138.90 449.91,138.90 450.04,138.90 450.18,138.90 450.31,138.90 450.44,138.90 450.58,138.90 450.71,138.90 450.84,138.90 450.98,138.90 451.11,138.90 451.24,138.90 451.38,138.90 451.51,138.90 451.64,138.90 451.78,138.90 451.91,138.90 452.04,138.90 452.18,138.90 452.31,138.90 452.44,138.90 452.58,138.90 452.71,138.90 452.84,138.90 452.98,138.90 453.11,138.90 453.24,138.90 453.37,138.90 453.51,138.90 453.64,138.90 453.77,138.90 453.91,138.90 454.04,138.90 454.17,138.90 454.31,138.90 454.44,138.90 454.57,138.90 454.71,138.90 454.84,138.90 454.97,138.90 455.11,138.90 455.24,138.90 455.37,138.90 455.51,138.90 455.64,138.90 455.77,138.89 455.91,138.89 456.04,138.88 456.17,138.86 456.31,138.82 456.44,138.78 456.57,138.72 456.71,138.64 456.84,138.55 456.97,138.45 457.10,138.34 457.24,138.23 457.37,138.11 457.50,137.99 457.64,137.88 457.77,137.76 457.90,137.64 458.04,137.52 458.17,137.40 458.30,137.29 458.44,137.17 458.57,137.05 458.70,136.94 458.84,136.82 458.97,136.72 459.10,136.62 459.24,136.53 459.37,136.46 459.50,136.41 459.64,136.36 459.77,136.34 459.90,136.32 460.04,136.31 460.17,136.30 460.30,136.30 460.44,136.30 460.57,136.30 460.70,136.30 460.83,136.30 460.97,136.30 461.10,136.30 461.23,136.30 461.37,136.30 461.50,136.30 461.63,136.30 461.77,136.30 461.90,136.30 462.03,136.30 462.17,136.30 462.30,136.30 462.43,136.30 462.57,136.30 462.70,136.30 462.83,136.30 462.97,136.30 463.10,136.30 463.23,136.30 463.37,136.30 463.50,136.30 463.63,136.30 463.77,136.30 463.90,136.30 464.03,136.30 464.17,136.30 464.30,136.30 464.43,136.30" fill="none" stroke="#ff7f0e" stroke-width="2.15" stroke-linejoin="round" stroke-linecap="butt"/>
<path d="M57.73,29.65V156.35M483.13,29.65V156.35" fill="none" stroke="#262626" stroke-width="1.3" stroke-linecap="square"/><path d="M57.73,29.65H483.13M57.73,156.35H483.13" fill="none" stroke="#1a1a1a" stroke-width="1.2" stroke-linecap="square"/>
<circle cx="90.23" cy="227.80" r="4.25" fill="#ff0000"/>
<circle cx="127.44" cy="225.50" r="4.25" fill="#ff0000"/>
<circle cx="165.81" cy="228.20" r="4.25" fill="#ff0000"/>
<circle cx="204.62" cy="233.60" r="4.25" fill="#ff0000"/>
<circle cx="244.67" cy="229.10" r="4.25" fill="#ff0000"/>
<circle cx="284.99" cy="228.00" r="4.25" fill="#ff0000"/>
<circle cx="325.40" cy="237.10" r="4.25" fill="#ff0000"/>
<circle cx="364.48" cy="240.90" r="4.25" fill="#ff0000"/>
<circle cx="402.04" cy="241.60" r="4.25" fill="#ff0000"/>
<circle cx="439.70" cy="241.10" r="4.25" fill="#ff0000"/>
<polygon points="78.99,311.55 88.69,311.55 83.84,321.25" fill="#ffcb05"/>
<polygon points="115.58,310.55 125.28,310.55 120.43,320.25" fill="#ffcb05"/>
<polygon points="154.39,308.95 164.09,308.95 159.24,318.65" fill="#ffcb05"/>
<polygon points="192.75,309.85 202.45,309.85 197.60,319.55" fill="#ffcb05"/>
<polygon points="232.54,308.15 242.24,308.15 237.39,317.85" fill="#ffcb05"/>
<polygon points="272.95,307.35 282.65,307.35 277.80,317.05" fill="#ffcb05"/>
<polygon points="313.18,311.55 322.88,311.55 318.03,321.25" fill="#ffcb05"/>
<polygon points="352.79,312.15 362.49,312.15 357.64,321.85" fill="#ffcb05"/>
<polygon points="390.80,312.15 400.50,312.15 395.65,321.85" fill="#ffcb05"/>
<polygon points="428.28,312.55 437.98,312.55 433.13,322.25" fill="#ffcb05"/>
<polygon points="99.32,311.75 109.02,311.75 104.17,321.45" fill="#00ff00"/>
<polygon points="136.71,307.85 146.41,307.85 141.56,317.55" fill="#00ff00"/>
<polygon points="174.63,305.95 184.33,305.95 179.48,315.65" fill="#00ff00"/>
<polygon points="213.53,310.35 223.23,310.35 218.38,320.05" fill="#00ff00"/>
<polygon points="253.76,311.75 263.46,311.75 258.61,321.45" fill="#00ff00"/>
<polygon points="294.88,309.15 304.58,309.15 299.73,318.85" fill="#00ff00"/>
<polygon points="335.03,308.55 344.73,308.55 339.88,318.25" fill="#00ff00"/>
<polygon points="373.39,311.15 383.09,311.15 378.24,320.85" fill="#00ff00"/>
<polygon points="410.69,310.95 420.39,310.95 415.54,320.65" fill="#00ff00"/>
<polygon points="448.44,309.65 458.14,309.65 453.29,319.35" fill="#00ff00"/>
<polyline points="76.78,330.27 76.91,330.28 77.04,330.35 77.18,330.51 77.31,330.77 77.44,331.08 77.58,331.37 77.71,331.58 77.84,331.73 77.98,331.85 78.11,332.01 78.24,332.25 78.37,332.55 78.51,332.84 78.64,333.04 78.77,333.13 78.91,333.16 79.04,333.15 79.17,333.16 79.31,333.16 79.44,333.13 79.57,333.06 79.71,332.95 79.84,332.80 79.97,332.60 80.11,332.39 80.24,332.18 80.37,332.01 80.51,331.85 80.64,331.71 80.77,331.56 80.91,331.34 81.04,331.04 81.17,330.66 81.31,330.24 81.44,329.84 81.57,329.46 81.71,329.13 81.84,328.79 81.97,328.39 82.10,327.87 82.24,327.20 82.37,326.34 82.50,325.31 82.64,324.17 82.77,323.01 82.90,321.89 83.04,320.81 83.17,319.77 83.30,318.80 83.44,317.91 83.57,317.15 83.70,316.61 83.84,316.38 83.97,316.68 84.10,317.29 84.24,318.09 84.37,319.01 84.50,320.05 84.64,321.20 84.77,322.40 84.90,323.55 85.04,324.60 85.17,325.54 85.30,326.42 85.44,327.31 85.57,328.23 85.70,329.20 85.83,330.16 85.97,331.01 86.10,331.71 86.23,332.25 86.37,332.68 86.50,333.04 86.63,333.40 86.77,333.81 86.90,334.26 87.03,334.66 87.17,334.94 87.30,335.11 87.43,335.23 87.57,335.40 87.70,335.66 87.83,336.03 87.97,336.45 88.10,336.88 88.23,337.30 88.37,337.68 88.50,337.93 88.63,337.99 88.77,337.85 88.90,337.60 89.03,337.37 89.17,337.23 89.30,337.19 89.43,337.22 89.56,324.39 89.70,305.12 89.83,285.83 89.96,266.52 90.10,247.17 90.23,227.80 90.23,227.80 90.36,247.08 90.50,266.39 90.63,285.74 90.76,305.17 90.90,324.66 91.03,337.74 91.16,337.90 91.30,338.01 91.43,338.08 91.56,338.16 91.70,338.27 91.83,338.40 91.96,338.54 92.10,338.66 92.23,338.72 92.36,338.71 92.50,338.66 92.63,338.66 92.76,338.78 92.90,339.00 93.03,339.21 93.16,339.35 93.29,339.38 93.43,339.34 93.56,339.26 93.69,339.17 93.83,339.10 93.96,339.07 94.09,339.06 94.23,339.03 94.36,338.97 94.49,338.91 94.63,338.86 94.76,338.76 94.89,338.59 95.03,338.36 95.16,338.12 95.29,337.93 95.43,337.86 95.56,337.91 95.69,338.05 95.83,338.21 95.96,338.34 96.09,338.42 96.23,338.47 96.36,338.54 96.49,338.65 96.63,338.74 96.76,338.73 96.89,338.55 97.02,338.24 97.16,337.96 97.29,337.83 97.42,337.87 97.56,338.00 97.69,338.15 97.82,338.24 97.96,338.25 98.09,338.16 98.22,338.03 98.36,337.88 98.49,337.71 98.62,337.51 98.76,337.27 98.89,337.03 99.02,336.83 99.16,336.68 99.29,336.56 99.42,336.43 99.56,336.26 99.69,336.00 99.82,335.64 99.96,335.21 100.09,334.75 100.22,334.27 100.36,333.80 100.49,333.33 100.62,332.87 100.75,332.39 100.89,331.87 101.02,331.29 101.15,330.70 101.29,330.11 101.42,329.52 101.55,328.93 101.69,328.31 101.82,327.65 101.95,326.94 102.09,326.22 102.22,325.50 102.35,324.80 102.49,324.09 102.62,323.37 102.75,322.63 102.89,321.88 103.02,321.14 103.15,320.42 103.29,319.73 103.42,319.06 103.55,318.43 103.69,317.86 103.82,317.35 103.95,316.92 104.09,316.60 104.22,316.44 104.35,316.49 104.48,316.69 104.62,317.00 104.75,317.42 104.88,317.91 105.02,318.45 105.15,319.03 105.28,319.63 105.42,320.25 105.55,320.90 105.68,321.60 105.82,322.34 105.95,323.09 106.08,323.79 106.22,324.41 106.35,324.92 106.48,325.39 106.62,325.89 106.75,326.43 106.88,327.00 107.02,327.56 107.15,328.05 107.28,328.46 107.42,328.75 107.55,328.92 107.68,329.01 107.82,329.09 107.95,329.22 108.08,329.40 108.21,329.59 108.35,329.75 108.48,329.93 108.61,330.15 108.75,330.45 108.88,330.77 109.01,331.06 109.15,331.25 109.28,331.35 109.41,331.39 109.55,331.40 109.68,331.36 109.81,331.30 109.95,331.25 110.08,331.27 110.21,331.35 110.35,331.42 110.48,331.42 110.61,331.35 110.75,331.21 110.88,331.02 111.01,330.87 111.15,330.84 111.28,330.93 111.41,331.10 111.55,331.24 111.68,331.29 111.81,331.21 111.94,331.09 112.08,331.02 112.21,331.06 112.34,331.17 112.48,331.28 112.61,331.31 112.74,331.28 112.88,331.26 113.01,331.25 113.14,331.23 113.28,331.13 113.41,330.94 113.54,330.68 113.68,330.42 113.81,330.27 113.94,330.27 114.08,330.38 114.21,330.49 114.34,330.57 114.48,330.58 114.61,330.56 114.74,330.51 114.88,330.46 115.01,330.39 115.14,330.31 115.28,330.18 115.41,330.01 115.54,329.82 115.67,329.62 115.81,329.40 115.94,329.19 116.07,329.04 116.21,328.97 116.34,328.99 116.47,329.06 116.61,329.14 116.74,329.20 116.87,329.19 117.01,329.06 117.14,328.81 117.27,328.52 117.41,328.29 117.54,328.17 117.67,328.14 117.81,328.08 117.94,327.93 118.07,327.66 118.21,327.29 118.34,326.86 118.47,326.36 118.61,325.79 118.74,325.08 118.87,324.24 119.01,323.30 119.14,322.33 119.27,321.37 119.40,320.44 119.54,319.54 119.67,318.68 119.80,317.86 119.94,317.10 120.07,316.44 120.20,315.91 120.34,315.56 120.47,315.54 120.60,315.93 120.74,316.55 120.87,317.31 121.00,318.17 121.14,319.08 121.27,320.01 121.40,320.96 121.54,321.95 121.67,322.98 121.80,324.02 121.94,325.01 122.07,325.92 122.20,326.72 122.34,327.41 122.47,328.00 122.60,328.53 122.74,328.99 122.87,329.40 123.00,329.75 123.13,330.04 123.27,330.29 123.40,330.50 123.53,330.71 123.67,330.88 123.80,331.00 123.93,331.10 124.07,331.23 124.20,331.40 124.33,331.60 124.47,331.76 124.60,331.84 124.73,331.83 124.87,331.81 125.00,331.84 125.13,332.01 125.27,332.36 125.40,332.84 125.53,333.37 125.67,333.88 125.80,334.29 125.93,334.51 126.07,334.56 126.20,334.48 126.33,334.39 126.47,334.39 126.60,334.53 126.73,328.31 126.87,309.19 127.00,289.97 127.13,270.66 127.26,251.29 127.40,231.94 127.44,225.50 127.53,238.38 127.66,257.76 127.80,277.19 127.93,296.62 128.06,316.05 128.20,335.47 128.33,335.54 128.46,335.57 128.60,335.57 128.73,335.58 128.86,335.62 129.00,335.71 129.13,335.84 129.26,336.01 129.40,336.18 129.53,336.36 129.66,336.53 129.80,336.72 129.93,336.93 130.06,337.12 130.20,337.29 130.33,337.42 130.46,337.58 130.60,337.81 130.73,338.15 130.86,338.54 130.99,338.86 131.13,338.99 131.26,338.93 131.39,338.72 131.53,338.48 131.66,338.30 131.79,338.23 131.93,338.22 132.06,338.26 132.19,338.34 132.33,338.45 132.46,338.60 132.59,338.75 132.73,338.86 132.86,338.88 132.99,338.81 133.13,338.67 133.26,338.49 133.39,338.28 133.53,338.09 133.66,337.97 133.79,337.93 133.93,337.96 134.06,337.98 134.19,338.01 134.33,338.09 134.46,338.23 134.59,338.41 134.72,338.54 134.86,338.57 134.99,338.48 135.12,338.29 135.26,338.06 135.39,337.79 135.52,337.51 135.66,337.21 135.79,336.90 135.92,336.62 136.06,336.38 136.19,336.22 136.32,336.15 136.46,336.18 136.59,336.28 136.72,336.32 136.86,336.22 136.99,335.94 137.12,335.54 137.26,335.13 137.39,334.73 137.52,334.33 137.66,333.88 137.79,333.37 137.92,332.80 138.06,332.19 138.19,331.56 138.32,330.94 138.45,330.36 138.59,329.78 138.72,329.18 138.85,328.52 138.99,327.78 139.12,326.94 139.25,326.04 139.39,325.09 139.52,324.13 139.65,323.16 139.79,322.20 139.92,321.25 140.05,320.33 140.19,319.43 140.32,318.55 140.45,317.69 140.59,316.85 140.72,316.05 140.85,315.30 140.99,314.61 141.12,313.98 141.25,313.44 141.39,313.01 141.52,312.74 141.65,312.72 141.79,312.92 141.92,313.27 142.05,313.73 142.18,314.28 142.32,314.90 142.45,315.57 142.58,316.27 142.72,317.01 142.85,317.81 142.98,318.66 143.12,319.52 143.25,320.36 143.38,321.17 143.52,321.93 143.65,322.65 143.78,323.33 143.92,324.00 144.05,324.68 144.18,325.33 144.32,325.92 144.45,326.43 144.58,326.88 144.72,327.28 144.85,327.64 144.98,327.97 145.12,328.31 145.25,328.72 145.38,329.21 145.52,329.76 145.65,330.25 145.78,330.61 145.91,330.80 146.05,330.87 146.18,330.89 146.31,330.91 146.45,330.97 146.58,331.05 146.71,331.14 146.85,331.20 146.98,331.28 147.11,331.40 147.25,331.54 147.38,331.66 147.51,331.68 147.65,331.60 147.78,331.50 147.91,331.49 148.05,331.64 148.18,331.92 148.31,332.19 148.45,332.32 148.58,332.26 148.71,332.07 148.85,331.90 148.98,331.86 149.11,331.93 149.25,332.02 149.38,332.05 149.51,332.01 149.64,331.99 149.78,332.02 149.91,332.05 150.04,332.02 150.18,331.92 150.31,331.78 150.44,331.64 150.58,331.51 150.71,331.37 150.84,331.24 150.98,331.15 151.11,331.12 151.24,331.12 151.38,331.09 151.51,330.98 151.64,330.76 151.78,330.46 151.91,330.18 152.04,330.05 152.18,330.09 152.31,330.19 152.44,330.21 152.58,330.10 152.71,329.92 152.84,329.77 152.98,329.64 153.11,329.54 153.24,329.48 153.37,329.52 153.51,329.66 153.64,329.84 153.77,329.97 153.91,330.01 154.04,330.00 154.17,329.99 154.31,329.96 154.44,329.89 154.57,329.79 154.71,329.67 154.84,329.53 154.97,329.40 155.11,329.33 155.24,329.32 155.37,329.29 155.51,329.16 155.64,328.91 155.77,328.58 155.91,328.23 156.04,327.94 156.17,327.73 156.31,327.57 156.44,327.41 156.57,327.20 156.71,326.94 156.84,326.64 156.97,326.32 157.10,325.94 157.24,325.46 157.37,324.88 157.50,324.22 157.64,323.52 157.77,322.78 157.90,321.99 158.04,321.11 158.17,320.11 158.30,319.03 158.44,317.92 158.57,316.85 158.70,315.88 158.84,315.05 158.97,314.38 159.10,313.90 159.24,313.70 159.37,313.98 159.50,314.56 159.64,315.36 159.77,316.31 159.90,317.36 160.04,318.43 160.17,319.50 160.30,320.54 160.44,321.56 160.57,322.57 160.70,323.53 160.83,324.40 160.97,325.17 161.10,325.89 161.23,326.60 161.37,327.26 161.50,327.84 161.63,328.32 161.77,328.72 161.90,329.09 162.03,329.42 162.17,329.71 162.30,329.97 162.43,330.23 162.57,330.48 162.70,330.73 162.83,330.95 162.97,331.13 163.10,331.31 163.23,331.55 163.37,331.88 163.50,332.31 163.63,332.74 163.77,333.13 163.90,333.45 164.03,333.72 164.17,333.95 164.30,334.14 164.43,334.27 164.56,334.33 164.70,334.29 164.83,334.19 164.96,334.12 165.10,327.88 165.23,309.22 165.36,290.57 165.50,271.87 165.63,253.13 165.76,234.42 165.81,228.20 165.90,240.71 166.03,259.54 166.16,278.44 166.30,297.36 166.43,316.29 166.56,335.19 166.70,335.33 166.83,335.41 166.96,335.44 167.10,335.44 167.23,335.45 167.36,335.53 167.50,335.72 167.63,336.01 167.76,336.30 167.90,336.52 168.03,336.65 168.16,336.76 168.29,336.90 168.43,337.12 168.56,337.37 168.69,337.58 168.83,337.68 168.96,337.68 169.09,337.66 169.23,337.68 169.36,337.76 169.49,337.84 169.63,337.87 169.76,337.77 169.89,337.51 170.03,337.14 170.16,336.78 170.29,336.52 170.43,336.42 170.56,336.42 170.69,336.47 170.83,336.51 170.96,336.47 171.09,336.36 171.23,336.22 171.36,336.11 171.49,336.12 171.63,336.22 171.76,336.32 171.89,336.36 172.02,336.34 172.16,336.28 172.29,336.19 172.42,336.05 172.56,335.89 172.69,335.79 172.82,335.77 172.96,335.77 173.09,335.71 173.22,335.56 173.36,335.35 173.49,335.17 173.62,335.04 173.76,334.93 173.89,334.81 174.02,334.65 174.16,334.45 174.29,334.20 174.42,333.89 174.56,333.54 174.69,333.22 174.82,332.96 174.96,332.77 175.09,332.61 175.22,332.45 175.36,332.23 175.49,331.91 175.62,331.46 175.75,330.91 175.89,330.31 176.02,329.73 176.15,329.15 176.29,328.55 176.42,327.93 176.55,327.27 176.69,326.57 176.82,325.81 176.95,324.97 177.09,324.07 177.22,323.15 177.35,322.23 177.49,321.32 177.62,320.45 177.75,319.66 177.89,318.92 178.02,318.19 178.15,317.41 178.29,316.57 178.42,315.68 178.55,314.80 178.69,313.97 178.82,313.20 178.95,312.52 179.09,311.94 179.22,311.48 179.35,311.16 179.48,311.00 179.62,311.10 179.75,311.34 179.88,311.67 180.02,312.07 180.15,312.55 180.28,313.11 180.42,313.78 180.55,314.54 180.68,315.37 180.82,316.22 180.95,317.06 181.08,317.87 181.22,318.65 181.35,319.42 181.48,320.18 181.62,320.92 181.75,321.63 181.88,322.32 182.02,323.00 182.15,323.67 182.28,324.26 182.42,324.75 182.55,325.13 182.68,325.44 182.82,325.74 182.95,326.10 183.08,326.56 183.21,327.09 183.35,327.55 183.48,327.85 183.61,327.95 183.75,327.94 183.88,327.93 184.01,328.02 184.15,328.19 184.28,328.34 184.41,328.43 184.55,328.42 184.68,328.38 184.81,328.36 184.95,328.42 185.08,328.53 185.21,328.64 185.35,328.72 185.48,328.80 185.61,328.95 185.75,329.19 185.88,329.46 186.01,329.72 186.15,329.94 186.28,330.14 186.41,330.33 186.55,330.51 186.68,330.66 186.81,330.74 186.94,330.75 187.08,330.69 187.21,330.60 187.34,330.49 187.48,330.40 187.61,330.36 187.74,330.40 187.88,330.50 188.01,330.61 188.14,330.67 188.28,330.67 188.41,330.65 188.54,330.70 188.68,330.81 188.81,330.92 188.94,330.93 189.08,330.80 189.21,330.59 189.34,330.37 189.48,330.22 189.61,330.18 189.74,330.24 189.88,330.35 190.01,330.43 190.14,330.42 190.28,330.33 190.41,330.20 190.54,330.08 190.67,330.01 190.81,330.00 190.94,330.03 191.07,330.10 191.21,330.20 191.34,330.28 191.47,330.32 191.61,330.29 191.74,330.21 191.87,330.09 192.01,329.90 192.14,329.63 192.27,329.33 192.41,329.13 192.54,329.16 192.67,329.42 192.81,329.80 192.94,330.14 193.07,330.29 193.21,330.25 193.34,330.11 193.47,329.96 193.61,329.84 193.74,329.74 193.87,329.59 194.01,329.38 194.14,329.14 194.27,328.94 194.40,328.81 194.54,328.71 194.67,328.59 194.80,328.41 194.94,328.20 195.07,327.96 195.20,327.67 195.34,327.28 195.47,326.75 195.60,326.11 195.74,325.41 195.87,324.69 196.00,323.95 196.14,323.19 196.27,322.37 196.40,321.50 196.54,320.58 196.67,319.62 196.80,318.65 196.94,317.73 197.07,316.87 197.20,316.10 197.34,315.44 197.47,314.96 197.60,314.76 197.74,315.05 197.87,315.63 198.00,316.40 198.13,317.31 198.27,318.32 198.40,319.39 198.53,320.47 198.67,321.57 198.80,322.68 198.93,323.81 199.07,324.89 199.20,325.85 199.33,326.68 199.47,327.40 199.60,328.04 199.73,328.62 199.87,329.13 200.00,329.58 200.13,329.96 200.27,330.32 200.40,330.66 200.53,331.01 200.67,331.34 200.80,331.64 200.93,331.88 201.07,332.06 201.20,332.16 201.33,332.21 201.47,332.25 201.60,332.29 201.73,332.35 201.87,332.43 202.00,332.52 202.13,332.54 202.26,332.45 202.40,332.28 202.53,332.12 202.66,332.02 202.80,332.03 202.93,332.15 203.06,332.38 203.20,332.64 203.33,332.87 203.46,333.04 203.60,333.21 203.73,333.41 203.86,333.65 204.00,316.02 204.13,298.38 204.26,280.75 204.40,263.10 204.53,245.42 204.62,233.60 204.66,239.61 204.80,257.57 204.93,275.51 205.06,293.44 205.20,311.39 205.33,329.37 205.46,335.48 205.60,335.69 205.73,335.98 205.86,336.35 205.99,336.81 206.13,337.34 206.26,337.90 206.39,338.39 206.53,338.77 206.66,339.06 206.79,339.32 206.93,339.59 207.06,339.88 207.19,340.18 207.33,340.48 207.46,340.69 207.59,340.79 207.73,340.80 207.86,340.81 207.99,340.86 208.13,340.89 208.26,340.81 208.39,340.61 208.53,340.34 208.66,340.06 208.79,339.82 208.93,339.59 209.06,339.37 209.19,339.18 209.33,339.05 209.46,338.98 209.59,338.89 209.72,338.73 209.86,338.53 209.99,338.33 210.12,338.16 210.26,338.04 210.39,338.00 210.52,338.02 210.66,338.08 210.79,338.13 210.92,338.14 211.06,338.11 211.19,338.06 211.32,338.02 211.46,337.99 211.59,337.92 211.72,337.82 211.86,337.72 211.99,337.69 212.12,337.74 212.26,337.81 212.39,337.84 212.52,337.78 212.66,337.63 212.79,337.44 212.92,337.24 213.06,337.05 213.19,336.83 213.32,336.55 213.45,336.22 213.59,335.86 213.72,335.50 213.85,335.13 213.99,334.76 214.12,334.43 214.25,334.13 214.39,333.83 214.52,333.51 214.65,333.16 214.79,332.79 214.92,332.37 215.05,331.84 215.19,331.19 215.32,330.49 215.45,329.82 215.59,329.21 215.72,328.62 215.85,327.98 215.99,327.25 216.12,326.44 216.25,325.60 216.39,324.79 216.52,324.02 216.65,323.28 216.79,322.54 216.92,321.80 217.05,321.04 217.18,320.27 217.32,319.49 217.45,318.73 217.58,318.00 217.72,317.34 217.85,316.74 217.98,316.20 218.12,315.75 218.25,315.40 218.38,315.19 218.52,315.21 218.65,315.40 218.78,315.71 218.92,316.12 219.05,316.60 219.18,317.12 219.32,317.66 219.45,318.22 219.58,318.79 219.72,319.38 219.85,319.97 219.98,320.57 220.12,321.18 220.25,321.82 220.38,322.49 220.52,323.15 220.65,323.80 220.78,324.40 220.91,324.97 221.05,325.52 221.18,326.03 221.31,326.47 221.45,326.82 221.58,327.09 221.71,327.33 221.85,327.59 221.98,327.88 222.11,328.21 222.25,328.56 222.38,328.90 222.51,329.19 222.65,329.44 222.78,329.70 222.91,329.99 223.05,330.25 223.18,330.40 223.31,330.38 223.45,330.27 223.58,330.15 223.71,330.07 223.85,330.04 223.98,330.04 224.11,330.06 224.25,330.10 224.38,330.16 224.51,330.23 224.64,330.33 224.78,330.46 224.91,330.57 225.04,330.62 225.18,330.61 225.31,330.57 225.44,330.56 225.58,330.60 225.71,330.70 225.84,330.84 225.98,330.94 226.11,330.97 226.24,330.96 226.38,330.94 226.51,330.90 226.64,330.78 226.78,330.61 226.91,330.49 227.04,330.48 227.18,330.52 227.31,330.51 227.44,330.41 227.58,330.28 227.71,330.19 227.84,330.17 227.98,330.18 228.11,330.16 228.24,330.15 228.37,330.22 228.51,330.37 228.64,330.51 228.77,330.54 228.91,330.40 229.04,330.13 229.17,329.83 229.31,329.59 229.44,329.47 229.57,329.46 229.71,329.53 229.84,329.66 229.97,329.82 230.11,330.00 230.24,330.17 230.37,330.32 230.51,330.42 230.64,330.46 230.77,330.42 230.91,330.32 231.04,330.21 231.17,330.13 231.31,330.10 231.44,330.11 231.57,330.10 231.71,329.98 231.84,329.72 231.97,329.39 232.10,329.12 232.24,328.99 232.37,328.99 232.50,329.04 232.64,329.07 232.77,329.09 232.90,329.09 233.04,329.07 233.17,328.98 233.30,328.83 233.44,328.63 233.57,328.40 233.70,328.17 233.84,327.98 233.97,327.89 234.10,327.90 234.24,327.94 234.37,327.93 234.50,327.80 234.64,327.54 234.77,327.18 234.90,326.78 235.04,326.37 235.17,325.98 235.30,325.57 235.44,325.11 235.57,324.58 235.70,323.95 235.83,323.22 235.97,322.38 236.10,321.43 236.23,320.40 236.37,319.29 236.50,318.13 236.63,316.97 236.77,315.87 236.90,314.89 237.03,314.07 237.17,313.45 237.30,313.07 237.43,313.06 237.57,313.49 237.70,314.16 237.83,314.97 237.97,315.90 238.10,316.94 238.23,318.05 238.37,319.22 238.50,320.41 238.63,321.61 238.77,322.79 238.90,323.89 239.03,324.82 239.17,325.51 239.30,325.98 239.43,326.36 239.56,326.75 239.70,327.20 239.83,327.67 239.96,328.13 240.10,328.58 240.23,329.01 240.36,329.42 240.50,329.77 240.63,330.09 240.76,330.36 240.90,330.55 241.03,330.66 241.16,330.68 241.30,330.68 241.43,330.72 241.56,330.79 241.70,330.86 241.83,330.87 241.96,330.79 242.10,330.63 242.23,330.38 242.36,330.04 242.50,329.60 242.63,329.13 242.76,328.74 242.90,328.49 243.03,328.42 243.16,328.51 243.29,328.74 243.43,329.09 243.56,329.51 243.69,329.95 243.83,330.37 243.96,324.61 244.09,306.59 244.23,288.61 244.36,270.72 244.49,252.89 244.63,235.06 244.67,229.10 244.76,241.70 244.89,260.50 245.03,279.19 245.16,297.75 245.29,316.19 245.43,334.58 245.56,334.60 245.69,334.65 245.83,334.70 245.96,334.73 246.09,334.74 246.23,334.81 246.36,334.94 246.49,335.12 246.63,335.34 246.76,335.59 246.89,335.85 247.02,336.07 247.16,336.21 247.29,336.30 247.42,336.40 247.56,336.57 247.69,336.77 247.82,336.93 247.96,337.03 248.09,337.09 248.22,337.21 248.36,337.35 248.49,337.41 248.62,337.31 248.76,337.09 248.89,336.86 249.02,336.72 249.16,336.69 249.29,336.71 249.42,336.71 249.56,336.60 249.69,336.39 249.82,336.16 249.96,335.99 250.09,335.93 250.22,335.94 250.36,335.99 250.49,336.06 250.62,336.10 250.75,336.06 250.89,335.95 251.02,335.83 251.15,335.73 251.29,335.66 251.42,335.60 251.55,335.52 251.69,335.43 251.82,335.37 251.95,335.36 252.09,335.39 252.22,335.42 252.35,335.40 252.49,335.32 252.62,335.15 252.75,334.92 252.89,334.65 253.02,334.38 253.15,334.12 253.29,333.90 253.42,333.71 253.55,333.55 253.69,333.42 253.82,333.34 253.95,333.30 254.09,333.24 254.22,333.08 254.35,332.76 254.48,332.30 254.62,331.81 254.75,331.36 254.88,330.98 255.02,330.65 255.15,330.36 255.28,330.07 255.42,329.78 255.55,329.42 255.68,328.95 255.82,328.36 255.95,327.69 256.08,327.00 256.22,326.31 256.35,325.66 256.48,325.03 256.62,324.42 256.75,323.79 256.88,323.14 257.02,322.47 257.15,321.80 257.28,321.13 257.42,320.47 257.55,319.81 257.68,319.18 257.82,318.60 257.95,318.09 258.08,317.63 258.21,317.23 258.35,316.89 258.48,316.62 258.61,316.48 258.75,316.56 258.88,316.80 259.01,317.15 259.15,317.58 259.28,318.04 259.41,318.53 259.55,319.03 259.68,319.57 259.81,320.14 259.95,320.74 260.08,321.37 260.21,322.00 260.35,322.64 260.48,323.27 260.61,323.89 260.75,324.52 260.88,325.17 261.01,325.83 261.15,326.47 261.28,327.07 261.41,327.60 261.55,328.07 261.68,328.51 261.81,328.97 261.94,329.46 262.08,329.94 262.21,330.38 262.34,330.74 262.48,331.02 262.61,331.22 262.74,331.37 262.88,331.48 263.01,331.55 263.14,331.62 263.28,331.70 263.41,331.81 263.54,331.94 263.68,332.06 263.81,332.08 263.94,331.98 264.08,331.78 264.21,331.53 264.34,331.30 264.48,331.15 264.61,331.09 264.74,331.08 264.88,331.10 265.01,331.13 265.14,331.17 265.28,331.23 265.41,331.27 265.54,331.30 265.67,331.34 265.81,331.37 265.94,331.39 266.07,331.37 266.21,331.32 266.34,331.27 266.47,331.21 266.61,331.13 266.74,331.04 266.87,330.96 267.01,330.94 267.14,330.95 267.27,330.96 267.41,330.94 267.54,330.92 267.67,330.94 267.81,330.98 267.94,330.97 268.07,330.89 268.21,330.76 268.34,330.65 268.47,330.65 268.61,330.73 268.74,330.83 268.87,330.89 269.01,330.96 269.14,331.05 269.27,331.14 269.40,331.17 269.54,331.10 269.67,330.97 269.80,330.82 269.94,330.71 270.07,330.65 270.20,330.62 270.34,330.56 270.47,330.42 270.60,330.21 270.74,329.94 270.87,329.64 271.00,329.37 271.14,329.21 271.27,329.17 271.40,329.23 271.54,329.29 271.67,329.35 271.80,329.40 271.94,329.46 272.07,329.50 272.20,329.49 272.34,329.44 272.47,329.34 272.60,329.19 272.74,329.00 272.87,328.85 273.00,328.78 273.13,328.76 273.27,328.71 273.40,328.61 273.53,328.44 273.67,328.22 273.80,327.98 273.93,327.78 274.07,327.69 274.20,327.69 274.33,327.72 274.47,327.70 274.60,327.56 274.73,327.26 274.87,326.86 275.00,326.41 275.13,325.94 275.27,325.50 275.40,325.12 275.53,324.81 275.67,324.53 275.80,324.18 275.93,323.68 276.07,323.04 276.20,322.26 276.33,321.38 276.47,320.43 276.60,319.44 276.73,318.45 276.87,317.48 277.00,316.51 277.13,315.54 277.26,314.59 277.40,313.71 277.53,312.97 277.66,312.43 277.80,312.20 277.93,312.48 278.06,313.05 278.20,313.83 278.33,314.77 278.46,315.82 278.60,316.95 278.73,318.12 278.86,319.27 279.00,320.39 279.13,321.49 279.26,322.56 279.40,323.59 279.53,324.53 279.66,325.34 279.80,325.98 279.93,326.48 280.06,326.89 280.20,327.29 280.33,327.68 280.46,328.06 280.60,328.39 280.73,328.66 280.86,328.86 280.99,329.02 281.13,329.19 281.26,329.38 281.39,329.56 281.53,329.65 281.66,329.65 281.79,329.62 281.93,329.62 282.06,329.67 282.19,329.76 282.33,329.88 282.46,330.02 282.59,330.19 282.73,330.38 282.86,330.58 282.99,330.82 283.13,331.06 283.26,331.27 283.39,331.44 283.53,331.59 283.66,331.78 283.79,332.02 283.93,332.26 284.06,332.42 284.19,332.47 284.33,320.06 284.46,301.50 284.59,283.04 284.72,264.70 284.86,246.37 284.99,228.00 284.99,228.00 285.12,246.73 285.26,265.41 285.39,284.07 285.52,302.73 285.66,321.39 285.79,333.84 285.92,333.91 286.06,333.99 286.19,334.07 286.32,334.17 286.46,334.33 286.59,334.64 286.72,335.07 286.86,335.54 286.99,335.91 287.12,336.12 287.26,336.24 287.39,336.37 287.52,336.57 287.66,336.84 287.79,337.12 287.92,337.36 288.06,337.49 288.19,337.51 288.32,337.47 288.45,337.49 288.59,337.65 288.72,337.92 288.85,338.21 288.99,338.43 289.12,338.49 289.25,338.42 289.39,338.25 289.52,338.02 289.65,337.75 289.79,337.46 289.92,337.16 290.05,336.87 290.19,336.62 290.32,336.45 290.45,336.39 290.59,336.41 290.72,336.49 290.85,336.56 290.99,336.58 291.12,336.54 291.25,336.47 291.39,336.44 291.52,336.44 291.65,336.44 291.79,336.42 291.92,336.36 292.05,336.28 292.18,336.22 292.32,336.18 292.45,336.13 292.58,336.06 292.72,335.97 292.85,335.89 292.98,335.84 293.12,335.84 293.25,335.88 293.38,335.92 293.52,335.93 293.65,335.87 293.78,335.72 293.92,335.48 294.05,335.19 294.18,334.93 294.32,334.70 294.45,334.47 294.58,334.23 294.72,333.99 294.85,333.77 294.98,333.54 295.12,333.30 295.25,333.00 295.38,332.67 295.52,332.32 295.65,331.99 295.78,331.66 295.91,331.34 296.05,331.01 296.18,330.65 296.31,330.25 296.45,329.83 296.58,329.37 296.71,328.87 296.85,328.32 296.98,327.73 297.11,327.07 297.25,326.33 297.38,325.52 297.51,324.70 297.65,323.91 297.78,323.17 297.91,322.45 298.05,321.70 298.18,320.91 298.31,320.08 298.45,319.24 298.58,318.43 298.71,317.66 298.85,316.95 298.98,316.30 299.11,315.72 299.25,315.22 299.38,314.79 299.51,314.43 299.64,314.15 299.78,314.01 299.91,314.08 300.04,314.28 300.18,314.60 300.31,315.02 300.44,315.53 300.58,316.11 300.71,316.75 300.84,317.41 300.98,318.05 301.11,318.69 301.24,319.34 301.38,320.03 301.51,320.72 301.64,321.39 301.78,322.03 301.91,322.64 302.04,323.21 302.18,323.73 302.31,324.23 302.44,324.70 302.58,325.18 302.71,325.68 302.84,326.16 302.98,326.63 303.11,327.05 303.24,327.43 303.37,327.74 303.51,327.97 303.64,328.11 303.77,328.17 303.91,328.23 304.04,328.35 304.17,328.59 304.31,328.90 304.44,329.19 304.57,329.39 304.71,329.50 304.84,329.57 304.97,329.63 305.11,329.70 305.24,329.75 305.37,329.75 305.51,329.71 305.64,329.67 305.77,329.63 305.91,329.61 306.04,329.61 306.17,329.61 306.31,329.65 306.44,329.74 306.57,329.86 306.71,329.96 306.84,330.03 306.97,330.09 307.10,330.16 307.24,330.24 307.37,330.28 307.50,330.26 307.64,330.21 307.77,330.21 307.90,330.31 308.04,330.48 308.17,330.63 308.30,330.72 308.44,330.75 308.57,330.81 308.70,330.90 308.84,331.01 308.97,331.08 309.10,331.11 309.24,331.10 309.37,331.06 309.50,331.00 309.64,330.91 309.77,330.80 309.90,330.68 310.04,330.56 310.17,330.46 310.30,330.38 310.44,330.28 310.57,330.17 310.70,330.07 310.83,330.00 310.97,330.00 311.10,330.02 311.23,330.04 311.37,330.01 311.50,329.96 311.63,329.90 311.77,329.88 311.90,329.91 312.03,330.00 312.17,330.13 312.30,330.24 312.43,330.27 312.57,330.18 312.70,329.98 312.83,329.79 312.97,329.65 313.10,329.58 313.23,329.48 313.37,329.33 313.50,329.12 313.63,328.89 313.77,328.64 313.90,328.38 314.03,328.17 314.17,328.05 314.30,328.05 314.43,328.07 314.56,328.05 314.70,328.00 314.83,327.99 314.96,328.03 315.10,328.06 315.23,328.02 315.36,327.87 315.50,327.66 315.63,327.40 315.76,327.09 315.90,326.72 316.03,326.30 316.16,325.84 316.30,325.31 316.43,324.69 316.56,323.99 316.70,323.24 316.83,322.49 316.96,321.71 317.10,320.89 317.23,320.03 317.36,319.15 317.50,318.32 317.63,317.58 317.76,316.98 317.90,316.57 318.03,316.39 318.16,316.62 318.29,317.08 318.43,317.69 318.56,318.40 318.69,319.16 318.83,319.97 318.96,320.83 319.09,321.72 319.23,322.62 319.36,323.48 319.49,324.31 319.63,325.14 319.76,325.97 319.89,326.74 320.03,327.41 320.16,327.95 320.29,328.39 320.43,328.78 320.56,329.14 320.69,329.44 320.83,329.70 320.96,329.92 321.09,330.15 321.23,330.41 321.36,330.68 321.49,330.95 321.63,331.21 321.76,331.45 321.89,331.66 322.02,331.83 322.16,331.94 322.29,332.02 322.42,332.05 322.56,332.06 322.69,332.09 322.82,332.24 322.96,332.60 323.09,333.20 323.22,334.02 323.36,334.97 323.49,335.89 323.62,336.63 323.76,337.07 323.89,337.16 324.02,336.95 324.16,336.52 324.29,335.98 324.42,335.41 324.56,334.88 324.69,328.72 324.82,311.28 324.96,293.90 325.09,276.65 325.22,259.57 325.36,242.68 325.40,237.10 325.49,248.63 325.62,266.01 325.75,283.37 325.89,300.67 326.02,317.84 326.15,334.86 326.29,334.75 326.42,334.61 326.55,334.57 326.69,334.65 326.82,334.84 326.95,335.10 327.09,335.42 327.22,335.78 327.35,336.16 327.49,336.54 327.62,336.93 327.75,337.33 327.89,337.73 328.02,338.07 328.15,338.29 328.29,338.37 328.42,338.37 328.55,338.39 328.69,338.47 328.82,338.55 328.95,338.57 329.09,338.53 329.22,338.43 329.35,338.28 329.48,338.05 329.62,337.75 329.75,337.49 329.88,337.36 330.02,337.35 330.15,337.36 330.28,337.28 330.42,337.07 330.55,336.81 330.68,336.57 330.82,336.41 330.95,336.31 331.08,336.24 331.22,336.20 331.35,336.19 331.48,336.22 331.62,336.27 331.75,336.29 331.88,336.22 332.02,336.06 332.15,335.81 332.28,335.50 332.42,335.20 332.55,334.95 332.68,334.76 332.82,334.60 332.95,334.41 333.08,334.21 333.21,334.06 333.35,334.01 333.48,334.05 333.61,334.12 333.75,334.17 333.88,334.17 334.01,334.11 334.15,334.00 334.28,333.84 334.41,333.68 334.55,333.51 334.68,333.33 334.81,333.14 334.95,332.95 335.08,332.75 335.21,332.53 335.35,332.28 335.48,332.00 335.61,331.71 335.75,331.41 335.88,331.09 336.01,330.73 336.15,330.31 336.28,329.84 336.41,329.36 336.55,328.90 336.68,328.49 336.81,328.10 336.94,327.68 337.08,327.21 337.21,326.70 337.34,326.10 337.48,325.39 337.61,324.54 337.74,323.60 337.88,322.65 338.01,321.77 338.14,320.98 338.28,320.22 338.41,319.46 338.54,318.70 338.68,317.94 338.81,317.22 338.94,316.55 339.08,315.93 339.21,315.36 339.34,314.83 339.48,314.36 339.61,313.95 339.74,313.65 339.88,313.48 340.01,313.54 340.14,313.73 340.28,314.01 340.41,314.36 340.54,314.78 340.67,315.25 340.81,315.73 340.94,316.22 341.07,316.73 341.21,317.32 341.34,317.98 341.47,318.69 341.61,319.43 341.74,320.15 341.87,320.85 342.01,321.47 342.14,321.96 342.27,322.35 342.41,322.72 342.54,323.17 342.67,323.75 342.81,324.43 342.94,325.08 343.07,325.57 343.21,325.89 343.34,326.11 343.47,326.29 343.61,326.48 343.74,326.73 343.87,327.08 344.01,327.51 344.14,327.95 344.27,328.29 344.40,328.53 344.54,328.70 344.67,328.85 344.80,329.01 344.94,329.13 345.07,329.18 345.20,329.13 345.34,329.05 345.47,329.02 345.60,329.09 345.74,329.24 345.87,329.39 346.00,329.45 346.14,329.44 346.27,329.37 346.40,329.29 346.54,329.23 346.67,329.25 346.80,329.33 346.94,329.39 347.07,329.39 347.20,329.38 347.34,329.46 347.47,329.63 347.60,329.79 347.74,329.86 347.87,329.82 348.00,329.72 348.13,329.61 348.27,329.56 348.40,329.57 348.53,329.65 348.67,329.76 348.80,329.85 348.93,329.88 349.07,329.86 349.20,329.81 349.33,329.76 349.47,329.72 349.60,329.67 349.73,329.60 349.87,329.54 350.00,329.50 350.13,329.43 350.27,329.28 350.40,329.12 350.53,329.04 350.67,329.11 350.80,329.28 350.93,329.45 351.07,329.54 351.20,329.52 351.33,329.41 351.47,329.30 351.60,329.28 351.73,329.39 351.87,329.55 352.00,329.65 352.13,329.59 352.26,329.40 352.40,329.19 352.53,329.11 352.66,329.19 352.80,329.39 352.93,329.60 353.06,329.80 353.20,329.94 353.33,329.98 353.46,329.94 353.60,329.88 353.73,329.86 353.86,329.90 354.00,329.93 354.13,329.90 354.26,329.78 354.40,329.60 354.53,329.38 354.66,329.17 354.80,328.93 354.93,328.62 355.06,328.22 355.20,327.77 355.33,327.31 355.46,326.85 355.60,326.37 355.73,325.85 355.86,325.27 355.99,324.66 356.13,324.02 356.26,323.35 356.39,322.64 356.53,321.87 356.66,321.06 356.79,320.25 356.93,319.47 357.06,318.74 357.19,318.09 357.33,317.53 357.46,317.12 357.59,316.91 357.73,317.07 357.86,317.55 357.99,318.21 358.13,319.00 358.26,319.86 358.39,320.75 358.53,321.68 358.66,322.66 358.79,323.63 358.93,324.54 359.06,325.36 359.19,326.12 359.33,326.83 359.46,327.50 359.59,328.11 359.72,328.67 359.86,329.19 359.99,329.68 360.12,330.15 360.26,330.56 360.39,330.89 360.52,331.10 360.66,331.22 360.79,331.30 360.92,331.37 361.06,331.48 361.19,331.63 361.32,331.85 361.46,332.15 361.59,332.49 361.72,332.83 361.86,333.13 361.99,333.42 362.12,333.72 362.26,334.07 362.39,334.49 362.52,334.99 362.66,335.48 362.79,335.89 362.92,336.15 363.06,336.23 363.19,336.14 363.32,335.92 363.45,335.61 363.59,335.25 363.72,334.89 363.85,318.10 363.99,301.41 364.12,284.84 364.25,268.35 364.39,251.89 364.48,240.90 364.52,246.39 364.65,262.83 364.79,279.28 364.92,295.76 365.05,312.26 365.19,328.76 365.32,334.29 365.45,334.40 365.59,334.64 365.72,334.98 365.85,335.32 365.99,335.60 366.12,335.83 366.25,336.05 366.39,336.31 366.52,336.62 366.65,336.98 366.79,337.38 366.92,337.76 367.05,338.06 367.18,338.25 367.32,338.36 367.45,338.42 367.58,338.47 367.72,338.51 367.85,338.50 367.98,338.44 368.12,338.32 368.25,338.13 368.38,337.85 368.52,337.52 368.65,337.22 368.78,336.96 368.92,336.70 369.05,336.42 369.18,336.16 369.32,335.98 369.45,335.87 369.58,335.80 369.72,335.73 369.85,335.66 369.98,335.55 370.12,335.34 370.25,335.05 370.38,334.71 370.52,334.39 370.65,334.10 370.78,333.85 370.91,333.64 371.05,333.53 371.18,333.56 371.31,333.73 371.45,333.96 371.58,334.14 371.71,334.23 371.85,334.26 371.98,334.26 372.11,334.24 372.25,334.19 372.38,334.09 372.51,333.91 372.65,333.67 372.78,333.44 372.91,333.30 373.05,333.28 373.18,333.32 373.31,333.35 373.45,333.30 373.58,333.18 373.71,332.97 373.85,332.70 373.98,332.37 374.11,332.00 374.25,331.59 374.38,331.15 374.51,330.68 374.64,330.21 374.78,329.78 374.91,329.39 375.04,329.06 375.18,328.74 375.31,328.43 375.44,328.07 375.58,327.64 375.71,327.09 375.84,326.45 375.98,325.73 376.11,325.00 376.24,324.27 376.38,323.58 376.51,322.90 376.64,322.22 376.78,321.52 376.91,320.81 377.04,320.11 377.18,319.44 377.31,318.80 377.44,318.19 377.58,317.64 377.71,317.15 377.84,316.72 377.98,316.37 378.11,316.11 378.24,315.96 378.37,316.00 378.51,316.18 378.64,316.46 378.77,316.83 378.91,317.27 379.04,317.77 379.17,318.32 379.31,318.92 379.44,319.54 379.57,320.14 379.71,320.74 379.84,321.35 379.97,321.98 380.11,322.65 380.24,323.30 380.37,323.89 380.51,324.42 380.64,324.94 380.77,325.46 380.91,325.99 381.04,326.49 381.17,326.95 381.31,327.35 381.44,327.70 381.57,328.00 381.71,328.27 381.84,328.55 381.97,328.85 382.10,329.12 382.24,329.33 382.37,329.45 382.50,329.49 382.64,329.48 382.77,329.47 382.90,329.50 383.04,329.57 383.17,329.66 383.30,329.73 383.44,329.76 383.57,329.77 383.70,329.81 383.84,329.90 383.97,330.01 384.10,330.09 384.24,330.09 384.37,330.02 384.50,329.91 384.64,329.83 384.77,329.80 384.90,329.81 385.04,329.83 385.17,329.88 385.30,329.99 385.44,330.15 385.57,330.33 385.70,330.46 385.83,330.55 385.97,330.59 386.10,330.59 386.23,330.57 386.37,330.58 386.50,330.64 386.63,330.71 386.77,330.71 386.90,330.62 387.03,330.50 387.17,330.39 387.30,330.30 387.43,330.25 387.57,330.20 387.70,330.11 387.83,329.93 387.97,329.70 388.10,329.52 388.23,329.45 388.37,329.51 388.50,329.67 388.63,329.87 388.77,330.04 388.90,330.14 389.03,330.18 389.17,330.18 389.30,330.15 389.43,330.12 389.56,330.05 389.70,329.95 389.83,329.82 389.96,329.70 390.10,329.65 390.23,329.68 390.36,329.78 390.50,329.88 390.63,329.90 390.76,329.78 390.90,329.51 391.03,329.18 391.16,328.91 391.30,328.74 391.43,328.65 391.56,328.57 391.70,328.45 391.83,328.30 391.96,328.19 392.10,328.14 392.23,328.15 392.36,328.16 392.50,328.09 392.63,327.88 392.76,327.56 392.90,327.21 393.03,326.92 393.16,326.73 393.29,326.59 393.43,326.43 393.56,326.18 393.69,325.82 393.83,325.38 393.96,324.86 394.09,324.29 394.23,323.68 394.36,323.04 394.49,322.34 394.63,321.56 394.76,320.72 394.89,319.85 395.03,319.01 395.16,318.27 395.29,317.66 395.43,317.22 395.56,316.96 395.69,316.99 395.83,317.35 395.96,317.92 396.09,318.63 396.23,319.47 396.36,320.39 396.49,321.33 396.63,322.25 396.76,323.12 396.89,323.92 397.02,324.67 397.16,325.36 397.29,325.98 397.42,326.53 397.56,327.01 397.69,327.45 397.82,327.87 397.96,328.26 398.09,328.64 398.22,329.05 398.36,329.45 398.49,329.80 398.62,330.03 398.76,330.15 398.89,330.22 399.02,330.31 399.16,330.39 399.29,330.46 399.42,330.56 399.56,330.79 399.69,331.19 399.82,331.74 399.96,332.34 400.09,332.89 400.22,333.33 400.36,333.63 400.49,333.84 400.62,333.94 400.75,333.94 400.89,333.83 401.02,333.67 401.15,333.50 401.29,333.38 401.42,316.95 401.55,300.58 401.69,284.33 401.82,268.22 401.95,252.23 402.04,241.60 402.09,247.18 402.22,263.88 402.35,280.46 402.49,296.94 402.62,313.40 402.75,329.86 402.89,335.38 403.02,335.36 403.15,335.28 403.29,335.22 403.42,335.26 403.55,335.37 403.69,335.50 403.82,335.63 403.95,335.79 404.09,336.05 404.22,336.43 404.35,336.85 404.48,337.21 404.62,337.43 404.75,337.49 404.88,337.45 405.02,337.44 405.15,337.56 405.28,337.81 405.42,338.10 405.55,338.29 405.68,338.29 405.82,338.15 405.95,337.94 406.08,337.72 406.22,337.51 406.35,337.30 406.48,337.12 406.62,336.99 406.75,336.87 406.88,336.71 407.02,336.52 407.15,336.34 407.28,336.22 407.42,336.17 407.55,336.15 407.68,336.12 407.82,336.11 407.95,336.13 408.08,336.17 408.21,336.20 408.35,336.18 408.48,336.16 408.61,336.15 408.75,336.18 408.88,336.24 409.01,336.28 409.15,336.28 409.28,336.27 409.41,336.27 409.55,336.28 409.68,336.25 409.81,336.18 409.95,336.09 410.08,336.03 410.21,335.98 410.35,335.90 410.48,335.76 410.61,335.52 410.75,335.19 410.88,334.81 411.01,334.43 411.15,334.08 411.28,333.81 411.41,333.59 411.55,333.39 411.68,333.13 411.81,332.76 411.94,332.25 412.08,331.65 412.21,331.01 412.34,330.39 412.48,329.80 412.61,329.23 412.74,328.68 412.88,328.13 413.01,327.56 413.14,326.94 413.28,326.27 413.41,325.59 413.54,324.88 413.68,324.14 413.81,323.34 413.94,322.51 414.08,321.70 414.21,320.92 414.34,320.18 414.48,319.47 414.61,318.79 414.74,318.15 414.88,317.56 415.01,317.03 415.14,316.56 415.28,316.18 415.41,315.89 415.54,315.74 415.67,315.80 415.81,315.99 415.94,316.27 416.07,316.64 416.21,317.08 416.34,317.59 416.47,318.14 416.61,318.70 416.74,319.26 416.87,319.82 417.01,320.37 417.14,320.94 417.27,321.53 417.41,322.15 417.54,322.77 417.67,323.39 417.81,324.00 417.94,324.60 418.07,325.19 418.21,325.74 418.34,326.19 418.47,326.48 418.61,326.64 418.74,326.76 418.87,326.93 419.01,327.17 419.14,327.41 419.27,327.61 419.40,327.76 419.54,327.94 419.67,328.17 419.80,328.42 419.94,328.62 420.07,328.72 420.20,328.74 420.34,328.76 420.47,328.81 420.60,328.89 420.74,329.00 420.87,329.10 421.00,329.21 421.14,329.36 421.27,329.57 421.40,329.81 421.54,330.02 421.67,330.16 421.80,330.23 421.94,330.28 422.07,330.35 422.20,330.45 422.34,330.52 422.47,330.53 422.60,330.46 422.74,330.36 422.87,330.25 423.00,330.11 423.13,329.93 423.27,329.76 423.40,329.65 423.53,329.61 423.67,329.64 423.80,329.73 423.93,329.92 424.07,330.20 424.20,330.51 424.33,330.70 424.47,330.69 424.60,330.45 424.73,330.09 424.87,329.75 425.00,329.50 425.13,329.37 425.27,329.31 425.40,329.30 425.53,329.36 425.67,329.49 425.80,329.61 425.93,329.66 426.07,329.62 426.20,329.51 426.33,329.39 426.47,329.28 426.60,329.25 426.73,329.31 426.87,329.46 427.00,329.63 427.13,329.76 427.26,329.81 427.40,329.78 427.53,329.66 427.66,329.47 427.80,329.33 427.93,329.31 428.06,329.42 428.20,329.54 428.33,329.55 428.46,329.39 428.60,329.12 428.73,328.82 428.86,328.60 429.00,328.51 429.13,328.52 429.26,328.61 429.40,328.71 429.53,328.80 429.66,328.88 429.80,328.95 429.93,328.99 430.06,328.99 430.20,328.97 430.33,328.93 430.46,328.85 430.60,328.72 430.73,328.50 430.86,328.19 430.99,327.81 431.13,327.37 431.26,326.85 431.39,326.25 431.53,325.55 431.66,324.78 431.79,323.99 431.93,323.22 432.06,322.44 432.19,321.66 432.33,320.87 432.46,320.09 432.59,319.36 432.73,318.69 432.86,318.13 432.99,317.70 433.13,317.51 433.26,317.72 433.39,318.16 433.53,318.74 433.66,319.42 433.79,320.16 433.93,320.96 434.06,321.83 434.19,322.77 434.33,323.70 434.46,324.58 434.59,325.36 434.72,326.04 434.86,326.63 434.99,327.15 435.12,327.59 435.26,327.99 435.39,328.38 435.52,328.77 435.66,329.18 435.79,329.60 435.92,330.04 436.06,330.42 436.19,330.72 436.32,330.91 436.46,331.05 436.59,331.24 436.72,331.56 436.86,331.99 436.99,332.41 437.12,332.76 437.26,333.04 437.39,333.36 437.52,333.79 437.66,334.31 437.79,334.87 437.92,335.37 438.06,335.68 438.19,335.71 438.32,335.50 438.45,335.19 438.59,334.90 438.72,334.66 438.85,334.43 438.99,328.73 439.12,312.16 439.25,295.69 439.39,279.31 439.52,262.95 439.65,246.57 439.70,241.10 439.79,252.08 439.92,268.55 440.05,285.05 440.19,301.61 440.32,318.24 440.45,334.89 440.59,335.09 440.72,335.27 440.85,335.42 440.99,335.59 441.12,335.79 441.25,336.02 441.39,336.26 441.52,336.46 441.65,336.64 441.79,336.82 441.92,337.04 442.05,337.35 442.18,337.79 442.32,338.32 442.45,338.87 442.58,339.34 442.72,339.66 442.85,339.84 442.98,339.89 443.12,339.89 443.25,339.94 443.38,340.05 443.52,340.14 443.65,340.08 443.78,339.83 443.92,339.46 444.05,339.07 444.18,338.73 444.32,338.42 444.45,338.11 444.58,337.78 444.72,337.40 444.85,337.00 444.98,336.63 445.12,336.36 445.25,336.20 445.38,336.10 445.52,336.01 445.65,335.87 445.78,335.69 445.91,335.49 446.05,335.31 446.18,335.19 446.31,335.15 446.45,335.15 446.58,335.18 446.71,335.22 446.85,335.25 446.98,335.23 447.11,335.13 447.25,334.95 447.38,334.72 447.51,334.53 447.65,334.43 447.78,334.42 447.91,334.48 448.05,334.58 448.18,334.73 448.31,334.88 448.45,334.99 448.58,334.99 448.71,334.84 448.85,334.56 448.98,334.20 449.11,333.83 449.25,333.46 449.38,333.04 449.51,332.55 449.64,331.98 449.78,331.39 449.91,330.81 450.04,330.29 450.18,329.85 450.31,329.43 450.44,328.96 450.58,328.35 450.71,327.63 450.84,326.83 450.98,326.01 451.11,325.18 451.24,324.33 451.38,323.51 451.51,322.71 451.64,321.91 451.78,321.08 451.91,320.23 452.04,319.41 452.18,318.66 452.31,317.97 452.44,317.30 452.58,316.65 452.71,316.02 452.84,315.46 452.98,314.99 453.11,314.64 453.24,314.42 453.37,314.39 453.51,314.53 453.64,314.78 453.77,315.14 453.91,315.60 454.04,316.14 454.17,316.74 454.31,317.36 454.44,318.01 454.57,318.67 454.71,319.36 454.84,320.07 454.97,320.77 455.11,321.46 455.24,322.11 455.37,322.69 455.51,323.20 455.64,323.63 455.77,324.05 455.91,324.48 456.04,324.96 456.17,325.45 456.31,325.91 456.44,326.30 456.57,326.63 456.71,326.93 456.84,327.25 456.97,327.58 457.10,327.90 457.24,328.15 457.37,328.32 457.50,328.40 457.64,328.43 457.77,328.50 457.90,328.67 458.04,328.94 458.17,329.21 458.30,329.42 458.44,329.57 458.57,329.69 458.70,329.82 458.84,329.97 458.97,330.18 459.10,330.53 459.24,331.00 459.37,331.52 459.50,331.98 459.64,332.32 459.77,332.55 459.90,332.72 460.04,332.88 460.17,333.04 460.30,333.14 460.44,333.16 460.57,333.08 460.70,332.93 460.83,332.75 460.97,332.62 461.10,332.55 461.23,332.54 461.37,332.53 461.50,332.49 461.63,332.46 461.77,332.47 461.90,332.57 462.03,332.78 462.17,333.01 462.30,333.15 462.43,333.16 462.57,333.07 462.70,332.94 462.83,332.85 462.97,332.82 463.10,332.83 463.23,332.86 463.37,332.86 463.50,332.80 463.63,332.64 463.77,332.40 463.90,332.14 464.03,331.92 464.17,331.80 464.30,331.77 464.43,331.78" fill="none" stroke="#1f77b4" stroke-width="2.15" stroke-linejoin="round" stroke-linecap="butt"/>
<path d="M57.73,220.0V346.9M483.13,220.0V346.9" fill="none" stroke="#262626" stroke-width="1.3" stroke-linecap="square"/><path d="M57.73,220.0H483.13M57.73,346.9H483.13" fill="none" stroke="#1a1a1a" stroke-width="1.2" stroke-linecap="square"/>
<g>
<line x1="76.78" y1="156.35" x2="76.78" y2="160.52" stroke="#1a1a1a" stroke-width="0.95"/>
<text transform="translate(76.78,173.9) scale(1.018,1)" text-anchor="middle">0</text>
<line x1="124.78" y1="156.35" x2="124.78" y2="160.52" stroke="#1a1a1a" stroke-width="0.95"/>
<text transform="translate(124.78,173.9) scale(1.018,1)" text-anchor="middle">1</text>
<line x1="172.78" y1="156.35" x2="172.78" y2="160.52" stroke="#1a1a1a" stroke-width="0.95"/>
<text transform="translate(172.78,173.9) scale(1.018,1)" text-anchor="middle">2</text>
<line x1="220.78" y1="156.35" x2="220.78" y2="160.52" stroke="#1a1a1a" stroke-width="0.95"/>
<text transform="translate(220.78,173.9) scale(1.018,1)" text-anchor="middle">3</text>
<line x1="268.78" y1="156.35" x2="268.78" y2="160.52" stroke="#1a1a1a" stroke-width="0.95"/>
<text transform="translate(268.78,173.9) scale(1.018,1)" text-anchor="middle">4</text>
<line x1="316.79" y1="156.35" x2="316.79" y2="160.52" stroke="#1a1a1a" stroke-width="0.95"/>
<text transform="translate(316.79,173.9) scale(1.018,1)" text-anchor="middle">5</text>
<line x1="364.79" y1="156.35" x2="364.79" y2="160.52" stroke="#1a1a1a" stroke-width="0.95"/>
<text transform="translate(364.79,173.9) scale(1.018,1)" text-anchor="middle">6</text>
<line x1="412.79" y1="156.35" x2="412.79" y2="160.52" stroke="#1a1a1a" stroke-width="0.95"/>
<text transform="translate(412.79,173.9) scale(1.018,1)" text-anchor="middle">7</text>
<line x1="460.79" y1="156.35" x2="460.79" y2="160.52" stroke="#1a1a1a" stroke-width="0.95"/>
<text transform="translate(460.79,173.9) scale(1.018,1)" text-anchor="middle">8</text>
<line x1="53.56" y1="52.45" x2="57.73" y2="52.45" stroke="#1a1a1a" stroke-width="0.95"/>
<text transform="translate(49.39,56.85) scale(1.018,1)" text-anchor="end">1.0</text>
<line x1="53.56" y1="85.45" x2="57.73" y2="85.45" stroke="#1a1a1a" stroke-width="0.95"/>
<text transform="translate(49.39,89.85) scale(1.018,1)" text-anchor="end">0.5</text>
<line x1="53.56" y1="118.45" x2="57.73" y2="118.45" stroke="#1a1a1a" stroke-width="0.95"/>
<text transform="translate(49.39,122.85) scale(1.018,1)" text-anchor="end">0.0</text>
<line x1="53.56" y1="151.45" x2="57.73" y2="151.45" stroke="#1a1a1a" stroke-width="0.95"/>
<text transform="translate(49.39,155.85) scale(1.018,1)" text-anchor="end">−0.5</text>
<line x1="76.78" y1="346.9" x2="76.78" y2="351.07" stroke="#1a1a1a" stroke-width="0.95"/>
<text transform="translate(76.78,365.0) scale(1.018,1)" text-anchor="middle">0</text>
<line x1="124.78" y1="346.9" x2="124.78" y2="351.07" stroke="#1a1a1a" stroke-width="0.95"/>
<text transform="translate(124.78,365.0) scale(1.018,1)" text-anchor="middle">1</text>
<line x1="172.78" y1="346.9" x2="172.78" y2="351.07" stroke="#1a1a1a" stroke-width="0.95"/>
<text transform="translate(172.78,365.0) scale(1.018,1)" text-anchor="middle">2</text>
<line x1="220.78" y1="346.9" x2="220.78" y2="351.07" stroke="#1a1a1a" stroke-width="0.95"/>
<text transform="translate(220.78,365.0) scale(1.018,1)" text-anchor="middle">3</text>
<line x1="268.78" y1="346.9" x2="268.78" y2="351.07" stroke="#1a1a1a" stroke-width="0.95"/>
<text transform="translate(268.78,365.0) scale(1.018,1)" text-anchor="middle">4</text>
<line x1="316.79" y1="346.9" x2="316.79" y2="351.07" stroke="#1a1a1a" stroke-width="0.95"/>
<text transform="translate(316.79,365.0) scale(1.018,1)" text-anchor="middle">5</text>
<line x1="364.79" y1="346.9" x2="364.79" y2="351.07" stroke="#1a1a1a" stroke-width="0.95"/>
<text transform="translate(364.79,365.0) scale(1.018,1)" text-anchor="middle">6</text>
<line x1="412.79" y1="346.9" x2="412.79" y2="351.07" stroke="#1a1a1a" stroke-width="0.95"/>
<text transform="translate(412.79,365.0) scale(1.018,1)" text-anchor="middle">7</text>
<line x1="460.79" y1="346.9" x2="460.79" y2="351.07" stroke="#1a1a1a" stroke-width="0.95"/>
<text transform="translate(460.79,365.0) scale(1.018,1)" text-anchor="middle">8</text>
<line x1="53.56" y1="247.35" x2="57.73" y2="247.35" stroke="#1a1a1a" stroke-width="0.95"/>
<text transform="translate(49.39,251.75) scale(1.018,1)" text-anchor="end">1.0</text>
<line x1="53.56" y1="288.40" x2="57.73" y2="288.40" stroke="#1a1a1a" stroke-width="0.95"/>
<text transform="translate(49.39,292.80) scale(1.018,1)" text-anchor="end">0.5</text>
<line x1="53.56" y1="329.45" x2="57.73" y2="329.45" stroke="#1a1a1a" stroke-width="0.95"/>
<text transform="translate(49.39,333.85) scale(1.018,1)" text-anchor="end">0.0</text>
<text transform="translate(270.43,190.5) scale(1.018,1)" text-anchor="middle">Time [sec]</text>
<text transform="translate(270.43,381.1) scale(1.018,1)" text-anchor="middle">Time [sec]</text>
<text transform="translate(13.50,93.3) rotate(-90) scale(1.018,1)" text-anchor="middle">Amplitude</text>
<text transform="translate(23.36,284.0) rotate(-90) scale(1.018,1)" text-anchor="middle">Amplitude</text>
<rect x="162.17" y="4.1" width="216.16" height="20.85" rx="2.4" ry="2.4" fill="#ffffff" fill-opacity="0.8" stroke="#cccccc" stroke-width="1.19"/>
<line x1="166.34" y1="13.6" x2="191.74" y2="13.6" stroke="#1f77b4" stroke-width="2.15"/>
<text transform="translate(200.79,17.8) scale(1.018,1)">Raw Signal</text>
<line x1="289.08" y1="13.6" x2="314.39" y2="13.6" stroke="#ff7f0e" stroke-width="2.15"/>
<text transform="translate(323.17,17.8) scale(1.018,1)">Baseline</text>
<rect x="58.35" y="194.5" width="423.89" height="20.60" rx="2.4" ry="2.4" fill="#ffffff" fill-opacity="0.8" stroke="#cccccc" stroke-width="1.19"/>
<line x1="62.34" y1="204.1" x2="87.74" y2="204.1" stroke="#1f77b4" stroke-width="2.15"/>
<text transform="translate(96.88,208.2) scale(1.018,1)">Filtered Signal</text>
<circle cx="216.96" cy="205.0" r="4.25" fill="#ff0000"/>
<text transform="translate(238.71,208.2) scale(1.018,1)">R-Peaks</text>
<polygon points="315.84,200.45 325.54,200.45 320.69,210.15" fill="#ffcb05"/>
<text transform="translate(342.44,208.2) scale(1.018,1)">P-Peak</text>
<polygon points="412.47,200.45 422.17,200.45 417.32,210.15" fill="#00ff00"/>
<text transform="translate(438.75,208.2) scale(1.018,1)">T-Peak</text>
</g>
</svg>
</body></html>
